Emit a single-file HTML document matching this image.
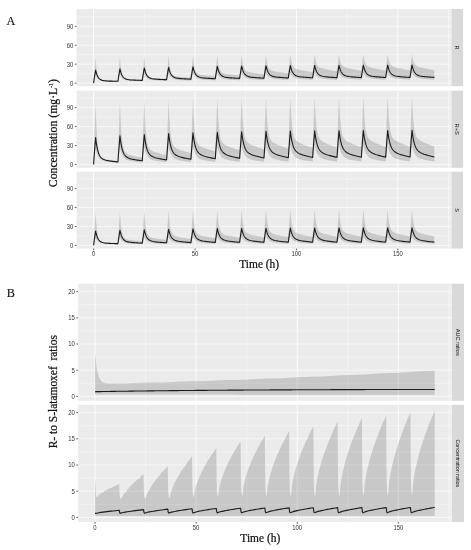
<!DOCTYPE html>
<html><head><meta charset="utf-8"><title>Figure</title>
<style>
html,body{margin:0;padding:0;background:#fff}
svg{display:block;filter:blur(0.35px)}
.tk{font-family:"Liberation Sans",sans-serif;font-size:6.6px;fill:#333}
.st{font-family:"Liberation Sans",sans-serif;font-size:5.9px;fill:#111}
.ti{font-family:"Liberation Serif",serif;font-size:11.5px;fill:#111;stroke:#111;stroke-width:0.22px}
.lb{font-family:"Liberation Serif",serif;font-size:12.2px;fill:#111;stroke:#111;stroke-width:0.15px}
</style></head><body>
<svg width="471" height="550" viewBox="0 0 471 550">
<rect width="471" height="550" fill="#fff"/>
<rect x="76.55" y="9" width="374.85" height="77.2" fill="#ebebeb"/>
<rect x="451.4" y="9" width="11.7" height="77.2" fill="#d9d9d9"/>
<path d="M76.55 73.63H451.4M76.55 54.7H451.4M76.55 35.77H451.4M76.55 16.84H451.4" stroke="#fff" stroke-width="1.0" stroke-opacity="0.42" fill="none"/>
<path d="M144.3 9V86.2M245.72 9V86.2M347.14 9V86.2M448.56 9V86.2" stroke="#fff" stroke-width="0.9" stroke-opacity="0.42" fill="none"/>
<path d="M76.55 83.1H451.4M76.55 64.17H451.4M76.55 45.24H451.4M76.55 26.31H451.4" stroke="#fff" stroke-width="1.0" stroke-opacity="0.62" fill="none"/>
<path d="M93.59 9V86.2M195.01 9V86.2M296.43 9V86.2M397.85 9V86.2" stroke="#fff" stroke-width="1.0" stroke-opacity="0.85" fill="none"/>
<rect x="448.4" y="9" width="3" height="77.2" fill="#fff" fill-opacity="0.22"/>
<polygon points="93.59,83.1 94.1,75.85 94.6,69.57 95.11,63.62 95.62,57.86 95.82,60.56 96.02,62.93 96.23,65.01 96.43,66.84 96.63,68.45 96.84,69.86 97.04,71.1 97.24,72.19 97.44,73.15 97.65,73.99 97.85,74.73 98.05,75.38 98.26,75.95 98.46,76.46 98.66,76.9 98.86,77.29 99.07,77.63 99.27,77.93 99.47,78.2 99.68,78.43 99.88,78.64 100.08,78.82 100.28,78.98 100.49,79.12 100.69,79.24 100.89,79.36 101.1,79.45 101.3,79.54 101.5,79.62 101.7,79.68 102.72,79.93 103.73,80.07 104.75,80.16 105.76,80.22 106.77,80.26 107.79,80.3 108.8,80.33 109.82,80.36 110.83,80.39 111.85,80.42 112.86,80.44 113.87,80.47 114.89,80.5 115.9,80.52 116.92,80.55 117.93,80.58 118.44,73.81 118.95,67.95 119.45,62.39 119.96,57.02 120.16,59.68 120.36,62.02 120.57,64.08 120.77,65.88 120.97,67.47 121.18,68.87 121.38,70.09 121.58,71.17 121.78,72.12 121.99,72.95 122.19,73.68 122.39,74.33 122.6,74.89 122.8,75.39 123,75.83 123.2,76.22 123.41,76.56 123.61,76.86 123.81,77.13 124.02,77.36 124.22,77.57 124.42,77.75 124.62,77.91 124.83,78.05 125.03,78.18 125.23,78.29 125.44,78.39 125.64,78.48 125.84,78.56 126.04,78.63 127.06,78.89 128.07,79.04 129.09,79.15 130.1,79.22 131.12,79.28 132.13,79.33 133.14,79.38 134.16,79.42 135.17,79.47 136.19,79.51 137.2,79.55 138.21,79.59 139.23,79.63 140.24,79.67 141.26,79.71 142.27,79.75 142.78,73.03 143.29,67.22 143.79,61.7 144.3,56.36 144.5,58.96 144.71,61.24 144.91,63.25 145.11,65.01 145.31,66.56 145.52,67.92 145.72,69.12 145.92,70.17 146.13,71.1 146.33,71.91 146.53,72.63 146.73,73.26 146.94,73.82 147.14,74.31 147.34,74.74 147.55,75.12 147.75,75.45 147.95,75.75 148.15,76.01 148.36,76.24 148.56,76.45 148.76,76.63 148.97,76.79 149.17,76.93 149.37,77.06 149.57,77.17 149.78,77.27 149.98,77.36 150.18,77.44 150.39,77.52 151.4,77.79 152.41,77.95 153.43,78.07 154.44,78.16 155.46,78.24 156.47,78.3 157.48,78.37 158.5,78.43 159.51,78.49 160.53,78.54 161.54,78.6 162.56,78.65 163.57,78.71 164.58,78.76 165.6,78.82 166.61,78.87 167.12,72.26 167.63,66.53 168.13,61.1 168.64,55.85 168.84,58.31 169.05,60.47 169.25,62.38 169.45,64.05 169.66,65.52 169.86,66.81 170.06,67.95 170.26,68.95 170.47,69.83 170.67,70.61 170.87,71.29 171.07,71.89 171.28,72.43 171.48,72.89 171.68,73.31 171.89,73.67 172.09,74 172.29,74.28 172.49,74.54 172.7,74.76 172.9,74.96 173.1,75.14 173.31,75.29 173.51,75.43 173.71,75.56 173.91,75.67 174.12,75.77 174.32,75.86 174.52,75.94 174.73,76.02 175.74,76.3 176.75,76.48 177.77,76.62 178.78,76.73 179.8,76.83 180.81,76.92 181.83,77 182.84,77.08 183.85,77.16 184.87,77.24 185.88,77.31 186.9,77.39 187.91,77.46 188.92,77.54 189.94,77.61 190.95,77.68 191.46,71.3 191.97,65.77 192.47,60.52 192.98,55.45 193.18,57.73 193.39,59.73 193.59,61.49 193.79,63.04 194,64.4 194.2,65.6 194.4,66.66 194.6,67.59 194.81,68.41 195.01,69.13 195.21,69.77 195.42,70.33 195.62,70.83 195.82,71.27 196.02,71.66 196.23,72 196.43,72.31 196.63,72.58 196.84,72.82 197.04,73.03 197.24,73.22 197.44,73.39 197.65,73.55 197.85,73.68 198.05,73.81 198.26,73.92 198.46,74.02 198.66,74.11 198.86,74.19 199.07,74.26 200.08,74.55 201.1,74.76 202.11,74.92 203.12,75.05 204.14,75.17 205.15,75.29 206.17,75.4 207.18,75.5 208.19,75.6 209.21,75.71 210.22,75.8 211.24,75.9 212.25,76 213.27,76.09 214.28,76.19 215.29,76.28 215.8,70.21 216.31,64.95 216.82,59.97 217.32,55.14 217.53,57.33 217.73,59.25 217.93,60.94 218.13,62.43 218.34,63.74 218.54,64.89 218.74,65.91 218.95,66.8 219.15,67.59 219.35,68.29 219.55,68.91 219.76,69.45 219.96,69.93 220.16,70.35 220.37,70.73 220.57,71.06 220.77,71.36 220.97,71.62 221.18,71.86 221.38,72.07 221.58,72.25 221.78,72.42 221.99,72.57 222.19,72.71 222.39,72.83 222.6,72.94 222.8,73.04 223,73.13 223.2,73.21 223.41,73.29 224.42,73.59 225.44,73.8 226.45,73.97 227.46,74.12 228.48,74.26 229.49,74.38 230.51,74.5 231.52,74.62 232.54,74.74 233.55,74.85 234.56,74.97 235.58,75.08 236.59,75.19 237.61,75.29 238.62,75.4 239.63,75.51 240.14,69.59 240.65,64.46 241.16,59.6 241.66,54.9 241.87,56.91 242.07,58.68 242.27,60.23 242.47,61.6 242.68,62.81 242.88,63.87 243.08,64.81 243.29,65.63 243.49,66.36 243.69,67.01 243.89,67.58 244.1,68.09 244.3,68.53 244.5,68.93 244.71,69.28 244.91,69.59 245.11,69.87 245.31,70.12 245.52,70.34 245.72,70.54 245.92,70.72 246.13,70.88 246.33,71.02 246.53,71.15 246.73,71.27 246.94,71.38 247.14,71.48 247.34,71.57 247.55,71.65 247.75,71.73 248.76,72.04 249.78,72.27 250.79,72.46 251.81,72.63 252.82,72.79 253.83,72.94 254.85,73.08 255.86,73.22 256.88,73.36 257.89,73.49 258.9,73.63 259.92,73.76 260.93,73.89 261.95,74.01 262.96,74.14 263.98,74.26 264.48,68.65 264.99,63.79 265.5,59.17 266,54.71 266.21,56.61 266.41,58.27 266.61,59.74 266.82,61.03 267.02,62.17 267.22,63.18 267.42,64.06 267.63,64.85 267.83,65.54 268.03,66.15 268.24,66.69 268.44,67.17 268.64,67.6 268.84,67.97 269.05,68.31 269.25,68.61 269.45,68.88 269.66,69.12 269.86,69.33 270.06,69.52 270.26,69.69 270.47,69.85 270.67,69.99 270.87,70.12 271.07,70.24 271.28,70.34 271.48,70.44 271.68,70.53 271.89,70.61 272.09,70.69 273.1,71 274.12,71.25 275.13,71.45 276.15,71.64 277.16,71.81 278.17,71.97 279.19,72.13 280.2,72.28 281.22,72.43 282.23,72.58 283.25,72.73 284.26,72.88 285.27,73.02 286.29,73.16 287.3,73.3 288.32,73.44 288.82,68.02 289.33,63.32 289.84,58.87 290.34,54.57 290.55,56.25 290.75,57.74 290.95,59.05 291.16,60.2 291.36,61.22 291.56,62.12 291.76,62.92 291.97,63.62 292.17,64.24 292.37,64.79 292.58,65.28 292.78,65.72 292.98,66.1 293.18,66.45 293.39,66.76 293.59,67.03 293.79,67.28 294,67.5 294.2,67.7 294.4,67.88 294.6,68.04 294.81,68.19 295.01,68.32 295.21,68.44 295.42,68.56 295.62,68.66 295.82,68.75 296.02,68.84 296.23,68.93 296.43,69 297.44,69.33 298.46,69.59 299.47,69.81 300.49,70.02 301.5,70.21 302.52,70.4 303.53,70.58 304.54,70.76 305.56,70.94 306.57,71.11 307.59,71.28 308.6,71.45 309.61,71.61 310.63,71.77 311.64,71.93 312.66,72.09 313.16,67.03 313.67,62.64 314.18,58.48 314.69,54.45 314.89,56.02 315.09,57.39 315.29,58.61 315.5,59.68 315.7,60.62 315.9,61.46 316.11,62.2 316.31,62.86 316.51,63.44 316.71,63.95 316.92,64.41 317.12,64.82 317.32,65.18 317.53,65.51 317.73,65.8 317.93,66.06 318.13,66.29 318.34,66.5 318.54,66.69 318.74,66.86 318.95,67.02 319.15,67.16 319.35,67.29 319.55,67.41 319.76,67.52 319.96,67.62 320.16,67.72 320.37,67.81 320.57,67.89 320.77,67.97 321.78,68.3 322.8,68.57 323.81,68.81 324.83,69.03 325.84,69.24 326.86,69.44 327.87,69.63 328.88,69.83 329.9,70.01 330.91,70.2 331.93,70.38 332.94,70.57 333.96,70.74 334.97,70.92 335.98,71.09 337,71.26 337.51,66.41 338.01,62.21 338.52,58.22 339.03,54.37 339.23,55.85 339.43,57.16 339.63,58.32 339.84,59.34 340.04,60.24 340.24,61.04 340.45,61.75 340.65,62.37 340.85,62.93 341.05,63.42 341.26,63.86 341.46,64.25 341.66,64.6 341.87,64.91 342.07,65.19 342.27,65.44 342.47,65.67 342.68,65.87 342.88,66.06 343.08,66.23 343.29,66.38 343.49,66.52 343.69,66.65 343.89,66.76 344.1,66.87 344.3,66.97 344.5,67.07 344.71,67.16 344.91,67.24 345.11,67.32 346.13,67.65 347.14,67.93 348.15,68.18 349.17,68.41 350.18,68.62 351.2,68.83 352.21,69.04 353.23,69.24 354.24,69.44 355.25,69.63 356.27,69.83 357.28,70.01 358.3,70.2 359.31,70.39 360.32,70.57 361.34,70.75 361.85,66.02 362.35,61.93 362.86,58.05 363.37,54.3 363.57,55.76 363.77,57.04 363.98,58.18 364.18,59.18 364.38,60.07 364.58,60.86 364.79,61.55 364.99,62.17 365.19,62.72 365.4,63.2 365.6,63.63 365.8,64.02 366,64.36 366.21,64.67 366.41,64.95 366.61,65.2 366.82,65.42 367.02,65.62 367.22,65.8 367.42,65.97 367.63,66.12 367.83,66.26 368.03,66.39 368.24,66.5 368.44,66.61 368.64,66.71 368.84,66.81 369.05,66.9 369.25,66.98 369.45,67.06 370.47,67.39 371.48,67.67 372.5,67.92 373.51,68.16 374.52,68.38 375.54,68.59 376.55,68.8 377.57,69.01 378.58,69.21 379.59,69.41 380.61,69.6 381.62,69.79 382.64,69.98 383.65,70.17 384.67,70.36 385.68,70.54 386.19,65.86 386.69,61.81 387.2,57.96 387.71,54.24 387.91,55.67 388.11,56.94 388.32,58.05 388.52,59.04 388.72,59.91 388.93,60.68 389.13,61.36 389.33,61.97 389.53,62.51 389.74,62.98 389.94,63.41 390.14,63.79 390.34,64.13 390.55,64.43 390.75,64.7 390.95,64.95 391.16,65.17 391.36,65.37 391.56,65.55 391.76,65.72 391.97,65.87 392.17,66 392.37,66.13 392.58,66.25 392.78,66.35 392.98,66.45 393.18,66.55 393.39,66.64 393.59,66.72 393.79,66.8 394.81,67.14 395.82,67.42 396.84,67.67 397.85,67.91 398.86,68.13 399.88,68.35 400.89,68.56 401.91,68.77 402.92,68.98 403.94,69.18 404.95,69.38 405.96,69.57 406.98,69.77 407.99,69.96 409.01,70.15 410.02,70.33 410.53,65.7 411.03,61.69 411.54,57.88 412.05,54.2 412.25,55.62 412.45,56.87 412.66,57.98 412.86,58.96 413.06,59.82 413.27,60.59 413.47,61.26 413.67,61.86 413.87,62.4 414.08,62.87 414.28,63.29 414.48,63.67 414.69,64.01 414.89,64.31 415.09,64.58 415.29,64.82 415.5,65.04 415.7,65.24 415.9,65.42 416.11,65.59 416.31,65.74 416.51,65.87 416.71,66 416.92,66.12 417.12,66.22 417.32,66.32 417.53,66.42 417.73,66.51 417.93,66.59 418.13,66.67 419.15,67.01 420.16,67.29 421.18,67.55 422.19,67.78 423.21,68.01 424.22,68.23 425.23,68.44 426.25,68.66 427.26,68.86 428.28,69.07 429.29,69.27 430.3,69.46 431.32,69.66 432.33,69.85 433.35,70.04 434.36,70.23 434.36,79.69 433.35,79.63 432.33,79.57 431.32,79.5 430.3,79.44 429.29,79.37 428.28,79.3 427.26,79.23 426.25,79.15 425.23,79.07 424.22,78.98 423.21,78.89 422.19,78.79 421.18,78.66 420.16,78.52 419.15,78.34 418.13,78.11 417.93,78.05 417.73,78 417.53,77.93 417.32,77.87 417.12,77.8 416.92,77.73 416.71,77.65 416.51,77.57 416.31,77.48 416.11,77.38 415.9,77.28 415.7,77.17 415.5,77.05 415.29,76.93 415.09,76.8 414.89,76.65 414.69,76.5 414.48,76.33 414.28,76.15 414.08,75.96 413.87,75.75 413.67,75.53 413.47,75.29 413.27,75.04 413.06,74.76 412.86,74.46 412.66,74.13 412.45,73.79 412.25,73.41 412.05,73 411.54,74.54 411.03,76.12 410.53,77.79 410.02,79.72 409.01,79.66 407.99,79.59 406.98,79.53 405.96,79.46 404.95,79.4 403.94,79.33 402.92,79.25 401.91,79.18 400.89,79.1 399.88,79.01 398.86,78.92 397.85,78.82 396.84,78.69 395.82,78.55 394.81,78.37 393.79,78.14 393.59,78.08 393.39,78.03 393.18,77.97 392.98,77.9 392.78,77.83 392.58,77.76 392.37,77.68 392.17,77.6 391.97,77.51 391.76,77.41 391.56,77.31 391.36,77.2 391.16,77.08 390.95,76.96 390.75,76.82 390.55,76.68 390.34,76.53 390.14,76.36 389.94,76.18 389.74,75.99 389.53,75.78 389.33,75.56 389.13,75.32 388.93,75.06 388.72,74.78 388.52,74.48 388.32,74.16 388.11,73.81 387.91,73.43 387.71,73.03 387.2,74.56 386.69,76.15 386.19,77.82 385.68,79.75 384.67,79.69 383.65,79.63 382.64,79.56 381.62,79.5 380.61,79.43 379.59,79.36 378.58,79.29 377.57,79.21 376.55,79.14 375.54,79.05 374.52,78.96 373.51,78.85 372.5,78.73 371.48,78.59 370.47,78.41 369.45,78.18 369.25,78.12 369.05,78.07 368.84,78.01 368.64,77.94 368.44,77.87 368.24,77.8 368.03,77.72 367.83,77.64 367.63,77.55 367.42,77.45 367.22,77.35 367.02,77.24 366.82,77.12 366.61,77 366.41,76.86 366.21,76.72 366,76.56 365.8,76.4 365.6,76.22 365.4,76.03 365.19,75.82 364.99,75.6 364.79,75.35 364.58,75.1 364.38,74.82 364.18,74.52 363.98,74.19 363.77,73.84 363.57,73.46 363.37,73.05 362.86,74.59 362.35,76.18 361.85,77.85 361.34,79.79 360.32,79.73 359.31,79.67 358.3,79.6 357.28,79.54 356.27,79.47 355.25,79.41 354.24,79.34 353.23,79.26 352.21,79.18 351.2,79.1 350.18,79.01 349.17,78.9 348.15,78.78 347.14,78.64 346.13,78.46 345.11,78.23 344.91,78.18 344.71,78.12 344.5,78.06 344.3,77.99 344.1,77.92 343.89,77.85 343.69,77.77 343.49,77.69 343.29,77.6 343.08,77.5 342.88,77.4 342.68,77.29 342.47,77.17 342.27,77.05 342.07,76.91 341.87,76.77 341.66,76.61 341.46,76.45 341.26,76.27 341.05,76.07 340.85,75.86 340.65,75.64 340.45,75.4 340.24,75.14 340.04,74.86 339.84,74.56 339.63,74.23 339.43,73.88 339.23,73.5 339.03,73.09 338.52,74.63 338.01,76.22 337.51,77.9 337,79.84 335.98,79.78 334.97,79.72 333.96,79.66 332.94,79.6 331.93,79.53 330.91,79.46 329.9,79.39 328.88,79.32 327.87,79.24 326.86,79.16 325.84,79.07 324.83,78.97 323.81,78.85 322.8,78.71 321.78,78.53 320.77,78.3 320.57,78.24 320.37,78.18 320.16,78.12 319.96,78.06 319.76,77.99 319.55,77.91 319.35,77.84 319.15,77.75 318.95,77.66 318.74,77.57 318.54,77.46 318.34,77.36 318.13,77.24 317.93,77.11 317.73,76.98 317.53,76.83 317.32,76.67 317.12,76.51 316.92,76.33 316.71,76.13 316.51,75.92 316.31,75.7 316.11,75.46 315.9,75.2 315.7,74.91 315.5,74.61 315.29,74.28 315.09,73.93 314.89,73.55 314.69,73.14 314.18,74.68 313.67,76.28 313.16,77.96 312.66,79.91 311.64,79.85 310.63,79.79 309.61,79.73 308.6,79.67 307.59,79.6 306.57,79.54 305.56,79.47 304.54,79.4 303.53,79.32 302.52,79.24 301.5,79.15 300.49,79.05 299.47,78.93 298.46,78.79 297.44,78.61 296.43,78.38 296.23,78.33 296.02,78.27 295.82,78.21 295.62,78.14 295.42,78.07 295.21,78 295.01,77.92 294.81,77.84 294.6,77.75 294.4,77.65 294.2,77.55 294,77.44 293.79,77.32 293.59,77.19 293.39,77.06 293.18,76.91 292.98,76.75 292.78,76.59 292.58,76.41 292.37,76.21 292.17,76 291.97,75.77 291.76,75.53 291.56,75.27 291.36,74.98 291.16,74.68 290.95,74.35 290.75,73.99 290.55,73.61 290.34,73.19 289.84,74.75 289.33,76.35 288.82,78.04 288.32,79.99 287.3,79.94 286.29,79.88 285.27,79.82 284.26,79.76 283.25,79.7 282.23,79.63 281.22,79.57 280.2,79.5 279.19,79.42 278.17,79.34 277.16,79.25 276.15,79.15 275.13,79.04 274.12,78.9 273.1,78.72 272.09,78.49 271.89,78.44 271.68,78.38 271.48,78.32 271.28,78.25 271.07,78.18 270.87,78.11 270.67,78.03 270.47,77.94 270.26,77.85 270.06,77.76 269.86,77.66 269.66,77.54 269.45,77.43 269.25,77.3 269.05,77.16 268.84,77.02 268.64,76.86 268.44,76.69 268.24,76.51 268.03,76.31 267.83,76.1 267.63,75.87 267.42,75.62 267.22,75.36 267.02,75.07 266.82,74.77 266.61,74.43 266.41,74.08 266.21,73.69 266,73.27 265.5,74.83 264.99,76.44 264.48,78.14 263.98,80.1 262.96,80.05 261.95,79.99 260.93,79.94 259.92,79.88 258.9,79.82 257.89,79.76 256.88,79.69 255.86,79.62 254.85,79.55 253.83,79.47 252.82,79.39 251.81,79.29 250.79,79.17 249.78,79.03 248.76,78.86 247.75,78.63 247.55,78.58 247.34,78.52 247.14,78.46 246.94,78.39 246.73,78.32 246.53,78.25 246.33,78.17 246.13,78.08 245.92,77.99 245.72,77.9 245.52,77.79 245.31,77.68 245.11,77.56 244.91,77.43 244.71,77.3 244.5,77.15 244.3,76.99 244.1,76.82 243.89,76.63 243.69,76.44 243.49,76.22 243.29,75.99 243.08,75.75 242.88,75.48 242.68,75.19 242.47,74.88 242.27,74.54 242.07,74.18 241.87,73.79 241.66,73.37 241.16,74.94 240.65,76.56 240.14,78.27 239.63,80.25 238.62,80.19 237.61,80.14 236.59,80.09 235.58,80.03 234.56,79.97 233.55,79.91 232.54,79.85 231.52,79.79 230.51,79.72 229.49,79.64 228.48,79.56 227.46,79.46 226.45,79.35 225.44,79.21 224.42,79.04 223.41,78.81 223.2,78.76 223,78.7 222.8,78.64 222.6,78.57 222.39,78.5 222.19,78.43 221.99,78.35 221.78,78.26 221.58,78.17 221.38,78.07 221.18,77.97 220.97,77.86 220.77,77.74 220.57,77.61 220.37,77.47 220.16,77.32 219.96,77.16 219.76,76.99 219.55,76.8 219.35,76.6 219.15,76.38 218.95,76.15 218.74,75.9 218.54,75.63 218.34,75.34 218.13,75.02 217.93,74.68 217.73,74.32 217.53,73.92 217.32,73.49 216.82,75.07 216.31,76.71 215.8,78.44 215.29,80.43 214.28,80.38 213.27,80.33 212.25,80.28 211.24,80.22 210.22,80.17 209.21,80.11 208.19,80.06 207.18,79.99 206.17,79.93 205.15,79.86 204.14,79.78 203.12,79.68 202.11,79.57 201.1,79.44 200.08,79.27 199.07,79.04 198.86,78.99 198.66,78.93 198.46,78.87 198.26,78.8 198.05,78.73 197.85,78.66 197.65,78.58 197.44,78.49 197.24,78.4 197.04,78.3 196.84,78.2 196.63,78.08 196.43,77.96 196.23,77.83 196.02,77.69 195.82,77.54 195.62,77.38 195.42,77.2 195.21,77.01 195.01,76.81 194.81,76.59 194.6,76.35 194.4,76.1 194.2,75.83 194,75.53 193.79,75.21 193.59,74.86 193.39,74.49 193.18,74.09 192.98,73.65 192.47,75.25 191.97,76.9 191.46,78.65 190.95,80.66 189.94,80.61 188.92,80.57 187.91,80.52 186.9,80.47 185.88,80.42 184.87,80.37 183.85,80.32 182.84,80.26 181.83,80.2 180.81,80.13 179.8,80.06 178.78,79.97 177.77,79.86 176.75,79.73 175.74,79.56 174.73,79.34 174.52,79.28 174.32,79.22 174.12,79.16 173.91,79.1 173.71,79.03 173.51,78.95 173.31,78.87 173.1,78.78 172.9,78.69 172.7,78.59 172.49,78.49 172.29,78.37 172.09,78.25 171.89,78.12 171.68,77.97 171.48,77.82 171.28,77.66 171.07,77.48 170.87,77.29 170.67,77.08 170.47,76.86 170.26,76.62 170.06,76.36 169.86,76.08 169.66,75.77 169.45,75.45 169.25,75.1 169.05,74.71 168.84,74.3 168.64,73.86 168.13,75.48 167.63,77.15 167.12,78.92 166.61,80.96 165.6,80.92 164.58,80.88 163.57,80.84 162.56,80.8 161.54,80.75 160.53,80.71 159.51,80.66 158.5,80.61 157.48,80.55 156.47,80.49 155.46,80.42 154.44,80.34 153.43,80.24 152.41,80.11 151.4,79.94 150.39,79.72 150.18,79.66 149.98,79.61 149.78,79.54 149.57,79.48 149.37,79.41 149.17,79.33 148.97,79.25 148.76,79.16 148.56,79.07 148.36,78.97 148.15,78.86 147.95,78.74 147.75,78.62 147.55,78.48 147.34,78.34 147.14,78.18 146.94,78.01 146.73,77.83 146.53,77.64 146.33,77.43 146.13,77.2 145.92,76.95 145.72,76.69 145.52,76.4 145.31,76.09 145.11,75.75 144.91,75.39 144.71,75 144.5,74.58 144.3,74.12 143.79,75.77 143.29,77.47 142.78,79.27 142.27,81.34 141.26,81.31 140.24,81.28 139.23,81.24 138.21,81.21 137.2,81.17 136.19,81.13 135.17,81.09 134.16,81.05 133.14,81 132.13,80.94 131.12,80.88 130.1,80.81 129.09,80.71 128.07,80.59 127.06,80.43 126.04,80.21 125.84,80.15 125.64,80.09 125.44,80.03 125.23,79.97 125.03,79.89 124.83,79.82 124.62,79.74 124.42,79.65 124.22,79.55 124.02,79.45 123.81,79.34 123.61,79.22 123.41,79.09 123.2,78.96 123,78.81 122.8,78.65 122.6,78.47 122.39,78.29 122.19,78.09 121.99,77.87 121.78,77.64 121.58,77.38 121.38,77.11 121.18,76.81 120.97,76.49 120.77,76.15 120.57,75.77 120.36,75.37 120.16,74.93 119.96,74.46 119.45,76.14 118.95,77.88 118.44,79.72 117.93,81.84 116.92,81.81 115.9,81.79 114.89,81.76 113.87,81.74 112.86,81.71 111.85,81.68 110.83,81.65 109.82,81.61 108.8,81.58 107.79,81.53 106.77,81.48 105.76,81.41 104.75,81.32 103.73,81.21 102.72,81.05 101.7,80.83 101.5,80.78 101.3,80.72 101.1,80.66 100.89,80.59 100.69,80.52 100.49,80.44 100.28,80.36 100.08,80.27 99.88,80.17 99.68,80.07 99.47,79.95 99.27,79.83 99.07,79.7 98.86,79.56 98.66,79.41 98.46,79.24 98.26,79.07 98.05,78.87 97.85,78.66 97.65,78.44 97.44,78.2 97.24,77.93 97.04,77.65 96.84,77.34 96.63,77.01 96.43,76.65 96.23,76.26 96.02,75.84 95.82,75.39 95.62,74.9 95.11,76.77 94.6,78.7 94.1,80.74 93.59,83.1" fill="#333" fill-opacity="0.19"/>
<polyline points="93.59,83.1 94.1,79.35 94.6,76.1 95.11,73.02 95.62,70.04 95.82,70.92 96.02,71.73 96.23,72.48 96.43,73.17 96.63,73.8 96.84,74.38 97.04,74.91 97.24,75.4 97.44,75.85 97.65,76.26 97.85,76.64 98.05,76.99 98.26,77.32 98.46,77.61 98.66,77.88 98.86,78.13 99.07,78.37 99.27,78.58 99.47,78.77 99.68,78.95 99.88,79.12 100.08,79.27 100.28,79.41 100.49,79.54 100.69,79.66 100.89,79.77 101.1,79.87 101.3,79.96 101.5,80.05 101.7,80.13 102.72,80.44 103.73,80.65 104.75,80.8 105.76,80.9 106.77,80.98 107.79,81.03 108.8,81.08 109.82,81.11 110.83,81.14 111.85,81.17 112.86,81.2 113.87,81.22 114.89,81.24 115.9,81.26 116.92,81.28 117.93,81.3 118.44,77.74 118.95,74.66 119.45,71.73 119.96,68.91 120.16,69.79 120.36,70.6 120.57,71.34 120.77,72.03 120.97,72.66 121.18,73.24 121.38,73.77 121.58,74.26 121.78,74.71 121.99,75.13 122.19,75.51 122.39,75.86 122.6,76.18 122.8,76.48 123,76.76 123.2,77.01 123.41,77.24 123.61,77.45 123.81,77.65 124.02,77.83 124.22,78 124.42,78.15 124.62,78.3 124.83,78.43 125.03,78.55 125.23,78.66 125.44,78.76 125.64,78.86 125.84,78.95 126.04,79.03 127.06,79.36 128.07,79.58 129.09,79.74 130.1,79.86 131.12,79.95 132.13,80.02 133.14,80.07 134.16,80.12 135.17,80.17 136.19,80.21 137.2,80.24 138.21,80.28 139.23,80.31 140.24,80.34 141.26,80.38 142.27,80.41 142.78,76.85 143.29,73.77 143.79,70.85 144.3,68.02 144.5,68.9 144.71,69.71 144.91,70.46 145.11,71.15 145.31,71.78 145.52,72.35 145.72,72.89 145.92,73.38 146.13,73.83 146.33,74.24 146.53,74.63 146.73,74.98 146.94,75.3 147.14,75.6 147.34,75.88 147.55,76.13 147.75,76.36 147.95,76.58 148.15,76.78 148.36,76.96 148.56,77.13 148.76,77.29 148.97,77.43 149.17,77.56 149.37,77.69 149.57,77.8 149.78,77.9 149.98,78 150.18,78.09 150.39,78.18 151.4,78.51 152.41,78.75 153.43,78.92 154.44,79.05 155.46,79.14 156.47,79.22 157.48,79.29 158.5,79.35 159.51,79.4 160.53,79.45 161.54,79.5 162.56,79.54 163.57,79.59 164.58,79.63 165.6,79.67 166.61,79.71 167.12,76.16 167.63,73.08 168.13,70.16 168.64,67.34 168.84,68.22 169.05,69.03 169.25,69.77 169.45,70.46 169.66,71.09 169.86,71.66 170.06,72.2 170.26,72.69 170.47,73.14 170.67,73.56 170.87,73.94 171.07,74.29 171.28,74.62 171.48,74.92 171.68,75.19 171.89,75.45 172.09,75.68 172.29,75.9 172.49,76.1 172.7,76.28 172.9,76.45 173.1,76.61 173.31,76.75 173.51,76.89 173.71,77.01 173.91,77.13 174.12,77.23 174.32,77.33 174.52,77.43 174.73,77.51 175.74,77.86 176.75,78.1 177.77,78.28 178.78,78.41 179.8,78.52 180.81,78.61 181.83,78.68 182.84,78.75 183.85,78.81 184.87,78.87 185.88,78.92 186.9,78.97 187.91,79.02 188.92,79.07 189.94,79.12 190.95,79.17 191.46,75.62 191.97,72.54 192.47,69.62 192.98,66.8 193.18,67.68 193.39,68.49 193.59,69.23 193.79,69.92 194,70.55 194.2,71.13 194.4,71.66 194.6,72.15 194.81,72.6 195.01,73.02 195.21,73.4 195.42,73.76 195.62,74.08 195.82,74.38 196.02,74.66 196.23,74.91 196.43,75.15 196.63,75.37 196.84,75.57 197.04,75.75 197.24,75.92 197.44,76.08 197.65,76.23 197.85,76.36 198.05,76.49 198.26,76.61 198.46,76.71 198.66,76.81 198.86,76.91 199.07,76.99 200.08,77.34 201.1,77.59 202.11,77.78 203.12,77.92 204.14,78.03 205.15,78.13 206.17,78.21 207.18,78.28 208.19,78.35 209.21,78.41 210.22,78.47 211.24,78.53 212.25,78.59 213.27,78.64 214.28,78.7 215.29,78.75 215.8,75.2 216.31,72.12 216.82,69.21 217.32,66.38 217.53,67.26 217.73,68.07 217.93,68.82 218.13,69.5 218.34,70.13 218.54,70.71 218.74,71.24 218.95,71.73 219.15,72.19 219.35,72.6 219.55,72.99 219.76,73.34 219.96,73.67 220.16,73.97 220.37,74.24 220.57,74.5 220.77,74.74 220.97,74.95 221.18,75.15 221.38,75.34 221.58,75.51 221.78,75.67 221.99,75.82 222.19,75.96 222.39,76.08 222.6,76.2 222.8,76.31 223,76.41 223.2,76.5 223.41,76.59 224.42,76.94 225.44,77.2 226.45,77.39 227.46,77.54 228.48,77.65 229.49,77.75 230.51,77.84 231.52,77.92 232.54,77.99 233.55,78.06 234.56,78.12 235.58,78.18 236.59,78.24 237.61,78.3 238.62,78.36 239.63,78.42 240.14,74.87 240.65,71.8 241.16,68.88 241.66,66.06 241.87,66.94 242.07,67.75 242.27,68.49 242.47,69.17 242.68,69.8 242.88,70.38 243.08,70.92 243.29,71.41 243.49,71.86 243.69,72.28 243.89,72.66 244.1,73.02 244.3,73.34 244.5,73.64 244.71,73.92 244.91,74.18 245.11,74.41 245.31,74.63 245.52,74.83 245.72,75.02 245.92,75.19 246.13,75.35 246.33,75.5 246.53,75.64 246.73,75.76 246.94,75.88 247.14,75.99 247.34,76.09 247.55,76.19 247.75,76.28 248.76,76.63 249.78,76.89 250.79,77.09 251.81,77.24 252.82,77.36 253.83,77.46 254.85,77.55 255.86,77.63 256.88,77.71 257.89,77.78 258.9,77.85 259.92,77.91 260.93,77.98 261.95,78.04 262.96,78.1 263.98,78.17 264.48,74.62 264.99,71.54 265.5,68.63 266,65.81 266.21,66.69 266.41,67.49 266.61,68.24 266.82,68.92 267.02,69.55 267.22,70.13 267.42,70.66 267.63,71.15 267.83,71.61 268.03,72.02 268.24,72.41 268.44,72.76 268.64,73.09 268.84,73.39 269.05,73.67 269.25,73.93 269.45,74.16 269.66,74.38 269.86,74.58 270.06,74.77 270.26,74.94 270.47,75.1 270.67,75.25 270.87,75.39 271.07,75.52 271.28,75.64 271.48,75.74 271.68,75.85 271.89,75.94 272.09,76.03 273.1,76.39 274.12,76.65 275.13,76.85 276.15,77 277.16,77.13 278.17,77.23 279.19,77.33 280.2,77.41 281.22,77.49 282.23,77.56 283.25,77.63 284.26,77.7 285.27,77.77 286.29,77.84 287.3,77.9 288.32,77.97 288.82,74.42 289.33,71.35 289.84,68.43 290.34,65.61 290.55,66.49 290.75,67.3 290.95,68.04 291.16,68.72 291.36,69.35 291.56,69.93 291.76,70.47 291.97,70.96 292.17,71.41 292.37,71.83 292.58,72.21 292.78,72.57 292.98,72.89 293.18,73.19 293.39,73.47 293.59,73.73 293.79,73.97 294,74.19 294.2,74.39 294.4,74.58 294.6,74.75 294.81,74.91 295.01,75.06 295.21,75.2 295.42,75.32 295.62,75.44 295.82,75.55 296.02,75.66 296.23,75.75 296.43,75.84 297.44,76.2 298.46,76.47 299.47,76.67 300.49,76.82 301.5,76.95 302.52,77.06 303.53,77.15 304.54,77.24 305.56,77.32 306.57,77.4 307.59,77.47 308.6,77.54 309.61,77.61 310.63,77.68 311.64,77.74 312.66,77.81 313.16,74.26 313.67,71.19 314.18,68.28 314.69,65.46 314.89,66.34 315.09,67.14 315.29,67.89 315.5,68.57 315.7,69.2 315.9,69.78 316.11,70.31 316.31,70.8 316.51,71.26 316.71,71.67 316.92,72.06 317.12,72.41 317.32,72.74 317.53,73.04 317.73,73.32 317.93,73.58 318.13,73.81 318.34,74.03 318.54,74.24 318.74,74.42 318.95,74.6 319.15,74.76 319.35,74.91 319.55,75.05 319.76,75.17 319.96,75.29 320.16,75.4 320.37,75.51 320.57,75.6 320.77,75.69 321.78,76.06 322.8,76.32 323.81,76.52 324.83,76.68 325.84,76.81 326.86,76.92 327.87,77.02 328.88,77.1 329.9,77.19 330.91,77.26 331.93,77.34 332.94,77.41 333.96,77.48 334.97,77.55 335.98,77.62 337,77.69 337.51,74.14 338.01,71.07 338.52,68.16 339.03,65.34 339.23,66.22 339.43,67.02 339.63,67.77 339.84,68.45 340.04,69.08 340.24,69.66 340.45,70.19 340.65,70.68 340.85,71.14 341.05,71.55 341.26,71.94 341.46,72.29 341.66,72.62 341.87,72.92 342.07,73.2 342.27,73.46 342.47,73.7 342.68,73.92 342.88,74.12 343.08,74.31 343.29,74.48 343.49,74.64 343.69,74.79 343.89,74.93 344.1,75.06 344.3,75.18 344.5,75.29 344.71,75.39 344.91,75.49 345.11,75.58 346.13,75.94 347.14,76.21 348.15,76.41 349.17,76.57 350.18,76.7 351.2,76.81 352.21,76.91 353.23,77 354.24,77.08 355.25,77.16 356.27,77.24 357.28,77.31 358.3,77.39 359.31,77.46 360.32,77.53 361.34,77.6 361.85,74.05 362.35,70.98 362.86,68.06 363.37,65.25 363.57,66.12 363.77,66.93 363.98,67.67 364.18,68.36 364.38,68.99 364.58,69.56 364.79,70.1 364.99,70.59 365.19,71.04 365.4,71.46 365.6,71.85 365.8,72.2 366,72.53 366.21,72.83 366.41,73.11 366.61,73.37 366.82,73.6 367.02,73.82 367.22,74.03 367.42,74.21 367.63,74.39 367.83,74.55 368.03,74.7 368.24,74.84 368.44,74.97 368.64,75.09 368.84,75.2 369.05,75.3 369.25,75.4 369.45,75.49 370.47,75.85 371.48,76.12 372.5,76.33 373.51,76.49 374.52,76.62 375.54,76.73 376.55,76.83 377.57,76.92 378.58,77 379.59,77.08 380.61,77.16 381.62,77.24 382.64,77.31 383.65,77.38 384.67,77.45 385.68,77.52 386.19,73.98 386.69,70.9 387.2,67.99 387.71,65.17 387.91,66.05 388.11,66.86 388.32,67.6 388.52,68.28 388.72,68.91 388.93,69.49 389.13,70.03 389.33,70.52 389.53,70.97 389.74,71.39 389.94,71.77 390.14,72.13 390.34,72.45 390.55,72.76 390.75,73.04 390.95,73.29 391.16,73.53 391.36,73.75 391.56,73.95 391.76,74.14 391.97,74.32 392.17,74.48 392.37,74.63 392.58,74.77 392.78,74.9 392.98,75.02 393.18,75.13 393.39,75.23 393.59,75.33 393.79,75.42 394.81,75.79 395.82,76.05 396.84,76.26 397.85,76.42 398.86,76.55 399.88,76.66 400.89,76.76 401.91,76.86 402.92,76.94 403.94,77.02 404.95,77.1 405.96,77.18 406.98,77.25 407.99,77.32 409.01,77.39 410.02,77.47 410.53,73.92 411.03,70.85 411.54,67.93 412.05,65.12 412.25,65.99 412.45,66.8 412.66,67.54 412.86,68.23 413.06,68.86 413.27,69.44 413.47,69.97 413.67,70.46 413.87,70.91 414.08,71.33 414.28,71.72 414.48,72.07 414.69,72.4 414.89,72.7 415.09,72.98 415.29,73.24 415.5,73.48 415.7,73.7 415.9,73.9 416.11,74.09 416.31,74.26 416.51,74.42 416.71,74.57 416.92,74.71 417.12,74.84 417.32,74.96 417.53,75.07 417.73,75.18 417.93,75.27 418.13,75.36 419.15,75.73 420.16,76 421.18,76.21 422.19,76.37 423.21,76.5 424.22,76.61 425.23,76.71 426.25,76.81 427.26,76.89 428.28,76.97 429.29,77.05 430.3,77.13 431.32,77.2 432.33,77.28 433.35,77.35 434.36,77.42" fill="none" stroke="#1a1a1a" stroke-width="1.1" stroke-linejoin="round"/>
<text transform="translate(73.25 85.5) scale(0.9 1)" text-anchor="end" class="tk">0</text>
<text transform="translate(73.25 66.57) scale(0.9 1)" text-anchor="end" class="tk">30</text>
<text transform="translate(73.25 47.64) scale(0.9 1)" text-anchor="end" class="tk">60</text>
<text transform="translate(73.25 28.71) scale(0.9 1)" text-anchor="end" class="tk">90</text>
<path d="M74.85 83.1H76.55M74.85 64.17H76.55M74.85 45.24H76.55M74.85 26.31H76.55" stroke="#333" stroke-width="0.8" fill="none"/>
<text transform="translate(455.4 47.6) rotate(90)" text-anchor="middle" class="st" textLength="4.0" lengthAdjust="spacingAndGlyphs">R</text>
<rect x="76.55" y="90.6" width="374.85" height="77.2" fill="#ebebeb"/>
<rect x="451.4" y="90.6" width="11.7" height="77.2" fill="#d9d9d9"/>
<path d="M76.55 155.02H451.4M76.55 136.06H451.4M76.55 117.1H451.4M76.55 98.14H451.4" stroke="#fff" stroke-width="1.0" stroke-opacity="0.42" fill="none"/>
<path d="M144.3 90.6V167.8M245.72 90.6V167.8M347.14 90.6V167.8M448.56 90.6V167.8" stroke="#fff" stroke-width="0.9" stroke-opacity="0.42" fill="none"/>
<path d="M76.55 164.5H451.4M76.55 145.54H451.4M76.55 126.58H451.4M76.55 107.62H451.4" stroke="#fff" stroke-width="1.0" stroke-opacity="0.62" fill="none"/>
<path d="M93.59 90.6V167.8M195.01 90.6V167.8M296.43 90.6V167.8M397.85 90.6V167.8" stroke="#fff" stroke-width="1.0" stroke-opacity="0.85" fill="none"/>
<rect x="448.4" y="90.6" width="3" height="77.2" fill="#fff" fill-opacity="0.22"/>
<polygon points="93.59,164.5 94.1,146.99 94.6,131.82 95.11,117.42 95.62,103.51 95.82,110.08 96.02,115.85 96.23,120.92 96.43,125.38 96.63,129.3 96.84,132.75 97.04,135.79 97.24,138.46 97.44,140.81 97.65,142.88 97.85,144.71 98.05,146.31 98.26,147.73 98.46,148.98 98.66,150.08 98.86,151.06 99.07,151.92 99.27,152.68 99.47,153.35 99.68,153.95 99.88,154.48 100.08,154.95 100.28,155.37 100.49,155.74 100.69,156.08 100.89,156.37 101.1,156.64 101.3,156.88 101.5,157.09 101.7,157.29 102.72,158.02 103.73,158.49 104.75,158.83 105.76,159.1 106.77,159.32 107.79,159.52 108.8,159.71 109.82,159.88 110.83,160.04 111.85,160.2 112.86,160.35 113.87,160.49 114.89,160.63 115.9,160.77 116.92,160.9 117.93,161.02 118.44,144.03 118.95,129.31 119.45,115.34 119.96,101.84 120.16,108.05 120.36,113.51 120.57,118.32 120.77,122.54 120.97,126.26 121.18,129.53 121.38,132.41 121.58,134.95 121.78,137.18 121.99,139.15 122.19,140.89 122.39,142.42 122.6,143.77 122.8,144.97 123,146.03 123.2,146.96 123.41,147.79 123.61,148.52 123.81,149.17 124.02,149.75 124.22,150.27 124.42,150.72 124.62,151.13 124.83,151.5 125.03,151.83 125.23,152.12 125.44,152.39 125.64,152.63 125.84,152.85 126.04,153.04 127.06,153.81 128.07,154.33 129.09,154.72 130.1,155.04 131.12,155.32 132.13,155.58 133.14,155.83 134.16,156.06 135.17,156.28 136.19,156.5 137.2,156.71 138.21,156.91 139.23,157.11 140.24,157.31 141.26,157.5 142.27,157.68 142.78,141.27 143.29,127.06 143.79,113.57 144.3,100.54 144.5,106.48 144.71,111.7 144.91,116.29 145.11,120.34 145.31,123.9 145.52,127.03 145.72,129.79 145.92,132.23 146.13,134.37 146.33,136.26 146.53,137.93 146.73,139.41 146.94,140.71 147.14,141.86 147.34,142.88 147.55,143.78 147.75,144.59 147.95,145.3 148.15,145.93 148.36,146.5 148.56,147 148.76,147.45 148.97,147.85 149.17,148.22 149.37,148.54 149.57,148.84 149.78,149.1 149.98,149.34 150.18,149.56 150.39,149.76 151.4,150.55 152.41,151.11 153.43,151.54 154.44,151.91 155.46,152.23 156.47,152.54 157.48,152.83 158.5,153.1 159.51,153.37 160.53,153.63 161.54,153.89 162.56,154.14 163.57,154.38 164.58,154.62 165.6,154.85 166.61,155.07 167.12,139.12 167.63,125.3 168.13,112.19 168.64,99.52 168.84,105.25 169.05,110.29 169.25,114.72 169.45,118.62 169.66,122.06 169.86,125.09 170.06,127.75 170.26,130.11 170.47,132.18 170.67,134.01 170.87,135.63 171.07,137.06 171.28,138.32 171.48,139.44 171.68,140.43 171.89,141.32 172.09,142.1 172.29,142.79 172.49,143.41 172.7,143.97 172.9,144.46 173.1,144.91 173.31,145.3 173.51,145.66 173.71,145.99 173.91,146.28 174.12,146.55 174.32,146.79 174.52,147.01 174.73,147.21 175.74,148.02 176.75,148.6 177.77,149.07 178.78,149.47 179.8,149.83 180.81,150.17 181.83,150.5 182.84,150.81 183.85,151.11 184.87,151.41 185.88,151.7 186.9,151.98 187.91,152.25 188.92,152.52 189.94,152.79 190.95,153.04 191.46,137.45 191.97,123.94 192.47,111.12 192.98,98.73 193.18,104.29 193.39,109.19 193.59,113.49 193.79,117.29 194,120.63 194.2,123.57 194.4,126.17 194.6,128.46 194.81,130.48 195.01,132.26 195.21,133.84 195.42,135.23 195.62,136.47 195.82,137.56 196.02,138.53 196.23,139.39 196.43,140.16 196.63,140.84 196.84,141.45 197.04,142 197.24,142.49 197.44,142.92 197.65,143.32 197.85,143.68 198.05,144 198.26,144.29 198.46,144.56 198.66,144.8 198.86,145.02 199.07,145.23 200.08,146.05 201.1,146.66 202.11,147.15 203.12,147.58 204.14,147.97 205.15,148.33 206.17,148.68 207.18,149.02 208.19,149.35 209.21,149.68 210.22,149.99 211.24,150.3 212.25,150.6 213.27,150.89 214.28,151.18 215.29,151.46 215.8,136.14 216.31,122.88 216.82,110.29 217.32,98.12 217.53,103.55 217.73,108.33 217.93,112.54 218.13,116.25 218.34,119.51 218.54,122.39 218.74,124.93 218.95,127.17 219.15,129.15 219.35,130.9 219.55,132.44 219.76,133.81 219.96,135.02 220.16,136.09 220.37,137.05 220.57,137.9 220.77,138.65 220.97,139.32 221.18,139.93 221.38,140.46 221.58,140.95 221.78,141.38 221.99,141.77 222.19,142.13 222.39,142.45 222.6,142.74 222.8,143.01 223,143.25 223.2,143.47 223.41,143.68 224.42,144.52 225.44,145.14 226.45,145.65 227.46,146.1 228.48,146.51 229.49,146.9 230.51,147.27 231.52,147.63 232.54,147.98 233.55,148.33 234.56,148.66 235.58,148.99 236.59,149.31 237.61,149.63 238.62,149.93 239.63,150.23 240.14,135.13 240.65,122.05 241.16,109.64 241.66,97.64 241.87,102.97 242.07,107.66 242.27,111.8 242.47,115.44 242.68,118.64 242.88,121.47 243.08,123.97 243.29,126.17 243.49,128.12 243.69,129.83 243.89,131.35 244.1,132.7 244.3,133.89 244.5,134.95 244.71,135.89 244.91,136.73 245.11,137.48 245.31,138.14 245.52,138.74 245.72,139.27 245.92,139.75 246.13,140.18 246.33,140.57 246.53,140.92 246.73,141.24 246.94,141.53 247.14,141.8 247.34,142.05 247.55,142.27 247.75,142.48 248.76,143.32 249.78,143.96 250.79,144.49 251.81,144.95 252.82,145.38 253.83,145.78 254.85,146.17 255.86,146.55 256.88,146.92 257.89,147.28 258.9,147.63 259.92,147.97 260.93,148.31 261.95,148.64 262.96,148.96 263.98,149.28 264.48,134.34 264.99,121.4 265.5,109.13 266,97.26 266.21,102.52 266.41,107.14 266.61,111.22 266.82,114.81 267.02,117.97 267.22,120.76 267.42,123.22 267.63,125.39 267.83,127.31 268.03,129.01 268.24,130.51 268.44,131.84 268.64,133.02 268.84,134.06 269.05,134.99 269.25,135.82 269.45,136.56 269.66,137.22 269.86,137.81 270.06,138.34 270.26,138.82 270.47,139.25 270.67,139.63 270.87,139.99 271.07,140.3 271.28,140.6 271.48,140.86 271.68,141.11 271.89,141.33 272.09,141.54 273.1,142.39 274.12,143.04 275.13,143.58 276.15,144.06 277.16,144.5 278.17,144.92 279.19,145.32 280.2,145.71 281.22,146.09 282.23,146.46 283.25,146.82 284.26,147.18 285.27,147.53 286.29,147.87 287.3,148.2 288.32,148.53 288.82,133.72 289.33,120.9 289.84,108.73 290.34,96.97 290.55,102.17 290.75,106.74 290.95,110.77 291.16,114.31 291.36,117.44 291.56,120.2 291.76,122.63 291.97,124.78 292.17,126.68 292.37,128.36 292.58,129.85 292.78,131.17 292.98,132.33 293.18,133.37 293.39,134.29 293.59,135.12 293.79,135.85 294,136.5 294.2,137.09 294.4,137.62 294.6,138.09 294.81,138.52 295.01,138.9 295.21,139.25 295.42,139.57 295.62,139.86 295.82,140.13 296.02,140.38 296.23,140.6 296.43,140.81 297.44,141.67 298.46,142.33 299.47,142.88 300.49,143.36 301.5,143.81 302.52,144.24 303.53,144.65 304.54,145.05 305.56,145.44 306.57,145.82 307.59,146.19 308.6,146.56 309.61,146.92 310.63,147.27 311.64,147.61 312.66,147.95 313.16,133.24 313.67,120.51 314.18,108.43 314.69,96.75 314.89,101.89 315.09,106.42 315.29,110.42 315.5,113.93 315.7,117.03 315.9,119.77 316.11,122.18 316.31,124.31 316.51,126.2 316.71,127.86 316.92,129.34 317.12,130.64 317.32,131.8 317.53,132.83 317.73,133.75 317.93,134.57 318.13,135.29 318.34,135.95 318.54,136.53 318.74,137.05 318.95,137.53 319.15,137.95 319.35,138.34 319.55,138.69 319.76,139 319.96,139.3 320.16,139.56 320.37,139.81 320.57,140.03 320.77,140.24 321.78,141.11 322.8,141.77 323.81,142.33 324.83,142.82 325.84,143.28 326.86,143.71 327.87,144.13 328.88,144.54 329.9,144.94 330.91,145.33 331.93,145.71 332.94,146.08 333.96,146.44 334.97,146.8 335.98,147.15 337,147.5 337.51,132.87 338.01,120.21 338.52,108.19 339.03,96.57 339.23,101.68 339.43,106.18 339.63,110.14 339.84,113.63 340.04,116.71 340.24,119.43 340.45,121.83 340.65,123.94 340.85,125.82 341.05,127.47 341.26,128.94 341.46,130.24 341.66,131.39 341.87,132.41 342.07,133.32 342.27,134.14 342.47,134.86 342.68,135.51 342.88,136.09 343.08,136.61 343.29,137.08 343.49,137.51 343.69,137.89 343.89,138.24 344.1,138.56 344.3,138.85 344.5,139.12 344.71,139.36 344.91,139.59 345.11,139.8 346.13,140.67 347.14,141.34 348.15,141.9 349.17,142.4 350.18,142.86 351.2,143.3 352.21,143.73 353.23,144.14 354.24,144.54 355.25,144.94 356.27,145.33 357.28,145.7 358.3,146.07 359.31,146.44 360.32,146.79 361.34,147.14 361.85,132.58 362.35,119.97 362.86,108 363.37,96.43 363.57,101.51 363.77,105.99 363.98,109.93 364.18,113.4 364.38,116.46 364.58,119.17 364.79,121.55 364.99,123.66 365.19,125.52 365.4,127.17 365.6,128.63 365.8,129.92 366,131.07 366.21,132.09 366.41,132.99 366.61,133.8 366.82,134.53 367.02,135.17 367.22,135.75 367.42,136.27 367.63,136.74 367.83,137.17 368.03,137.55 368.24,137.9 368.44,138.22 368.64,138.51 368.84,138.77 369.05,139.02 369.25,139.25 369.45,139.46 370.47,140.33 371.48,141 372.5,141.56 373.51,142.07 374.52,142.54 375.54,142.98 376.55,143.41 377.57,143.83 378.58,144.24 379.59,144.64 380.61,145.03 381.62,145.41 382.64,145.79 383.65,146.15 384.67,146.52 385.68,146.87 386.19,132.35 386.69,119.78 387.2,107.86 387.71,96.33 387.91,101.39 388.11,105.84 388.32,109.76 388.52,113.22 388.72,116.27 388.93,118.96 389.13,121.34 389.33,123.43 389.53,125.29 389.74,126.93 389.94,128.38 390.14,129.67 390.34,130.82 390.55,131.83 390.75,132.74 390.95,133.54 391.16,134.26 391.36,134.91 391.56,135.49 391.76,136.01 391.97,136.47 392.17,136.9 392.37,137.28 392.58,137.63 392.78,137.95 392.98,138.24 393.18,138.5 393.39,138.75 393.59,138.98 393.79,139.19 394.81,140.06 395.82,140.74 396.84,141.3 397.85,141.81 398.86,142.28 399.88,142.73 400.89,143.17 401.91,143.59 402.92,144 403.94,144.4 404.95,144.8 405.96,145.18 406.98,145.56 407.99,145.93 409.01,146.3 410.02,146.65 410.53,132.18 411.03,119.64 411.54,107.74 412.05,96.24 412.25,101.28 412.45,105.72 412.66,109.63 412.86,113.08 413.06,116.12 413.27,118.8 413.47,121.17 413.67,123.26 413.87,125.11 414.08,126.75 414.28,128.19 414.48,129.48 414.69,130.62 414.89,131.63 415.09,132.54 415.29,133.34 415.5,134.06 415.7,134.7 415.9,135.28 416.11,135.8 416.31,136.27 416.51,136.69 416.71,137.07 416.92,137.42 417.12,137.74 417.32,138.03 417.53,138.29 417.73,138.54 417.93,138.77 418.13,138.98 419.15,139.85 420.16,140.53 421.18,141.1 422.19,141.61 423.21,142.09 424.22,142.54 425.23,142.98 426.25,143.4 427.26,143.82 428.28,144.22 429.29,144.62 430.3,145.01 431.32,145.39 432.33,145.76 433.35,146.13 434.36,146.49 434.36,161.47 433.35,161.33 432.33,161.2 431.32,161.06 430.3,160.91 429.29,160.75 428.28,160.59 427.26,160.41 426.25,160.22 425.23,160.02 424.22,159.81 423.21,159.56 422.19,159.29 421.18,158.98 420.16,158.6 419.15,158.14 418.13,157.56 417.93,157.43 417.73,157.28 417.53,157.13 417.32,156.97 417.12,156.8 416.92,156.62 416.71,156.43 416.51,156.23 416.31,156.01 416.11,155.78 415.9,155.54 415.7,155.28 415.5,155 415.29,154.7 415.09,154.38 414.89,154.04 414.69,153.67 414.48,153.28 414.28,152.86 414.08,152.41 413.87,151.93 413.67,151.41 413.47,150.85 413.27,150.25 413.06,149.6 412.86,148.9 412.66,148.15 412.45,147.35 412.25,146.48 412.05,145.54 411.54,149.18 411.03,152.94 410.53,156.9 410.02,161.48 409.01,161.35 407.99,161.21 406.98,161.07 405.96,160.93 404.95,160.77 403.94,160.6 402.92,160.43 401.91,160.24 400.89,160.05 399.88,159.83 398.86,159.59 397.85,159.31 396.84,159 395.82,158.63 394.81,158.17 393.79,157.59 393.59,157.45 393.39,157.31 393.18,157.16 392.98,157 392.78,156.83 392.58,156.65 392.37,156.46 392.17,156.26 391.97,156.04 391.76,155.81 391.56,155.57 391.36,155.31 391.16,155.03 390.95,154.73 390.75,154.41 390.55,154.07 390.34,153.71 390.14,153.31 389.94,152.89 389.74,152.44 389.53,151.96 389.33,151.44 389.13,150.88 388.93,150.28 388.72,149.63 388.52,148.94 388.32,148.19 388.11,147.38 387.91,146.51 387.71,145.58 387.2,149.21 386.69,152.97 386.19,156.93 385.68,161.5 384.67,161.37 383.65,161.24 382.64,161.09 381.62,160.95 380.61,160.79 379.59,160.63 378.58,160.46 377.57,160.27 376.55,160.07 375.54,159.86 374.52,159.62 373.51,159.35 372.5,159.03 371.48,158.66 370.47,158.2 369.45,157.63 369.25,157.49 369.05,157.35 368.84,157.2 368.64,157.04 368.44,156.87 368.24,156.69 368.03,156.5 367.83,156.3 367.63,156.08 367.42,155.85 367.22,155.61 367.02,155.35 366.82,155.07 366.61,154.77 366.41,154.45 366.21,154.11 366,153.75 365.8,153.36 365.6,152.94 365.4,152.49 365.19,152 364.99,151.48 364.79,150.93 364.58,150.33 364.38,149.68 364.18,148.98 363.98,148.24 363.77,147.43 363.57,146.56 363.37,145.62 362.86,149.25 362.35,153 361.85,156.96 361.34,161.52 360.32,161.39 359.31,161.26 358.3,161.12 357.28,160.98 356.27,160.82 355.25,160.66 354.24,160.49 353.23,160.3 352.21,160.11 351.2,159.89 350.18,159.65 349.17,159.38 348.15,159.07 347.14,158.7 346.13,158.25 345.11,157.67 344.91,157.54 344.71,157.4 344.5,157.25 344.3,157.09 344.1,156.92 343.89,156.74 343.69,156.55 343.49,156.35 343.29,156.13 343.08,155.9 342.88,155.66 342.68,155.4 342.47,155.12 342.27,154.82 342.07,154.51 341.87,154.17 341.66,153.8 341.46,153.41 341.26,152.99 341.05,152.54 340.85,152.06 340.65,151.54 340.45,150.98 340.24,150.38 340.04,149.74 339.84,149.04 339.63,148.29 339.43,147.49 339.23,146.62 339.03,145.68 338.52,149.3 338.01,153.05 337.51,157 337,161.55 335.98,161.43 334.97,161.29 333.96,161.16 332.94,161.01 331.93,160.86 330.91,160.7 329.9,160.53 328.88,160.35 327.87,160.15 326.86,159.94 325.84,159.7 324.83,159.44 323.81,159.13 322.8,158.76 321.78,158.31 320.77,157.73 320.57,157.6 320.37,157.46 320.16,157.31 319.96,157.15 319.76,156.98 319.55,156.8 319.35,156.61 319.15,156.41 318.95,156.2 318.74,155.97 318.54,155.73 318.34,155.47 318.13,155.19 317.93,154.89 317.73,154.57 317.53,154.23 317.32,153.87 317.12,153.48 316.92,153.06 316.71,152.61 316.51,152.13 316.31,151.61 316.11,151.05 315.9,150.45 315.7,149.81 315.5,149.12 315.29,148.37 315.09,147.56 314.89,146.69 314.69,145.76 314.18,149.37 313.67,153.11 313.16,157.05 312.66,161.59 311.64,161.47 310.63,161.34 309.61,161.2 308.6,161.06 307.59,160.91 306.57,160.75 305.56,160.58 304.54,160.4 303.53,160.21 302.52,160 301.5,159.76 300.49,159.5 299.47,159.19 298.46,158.83 297.44,158.38 296.43,157.81 296.23,157.67 296.02,157.53 295.82,157.39 295.62,157.23 295.42,157.06 295.21,156.88 295.01,156.69 294.81,156.49 294.6,156.28 294.4,156.05 294.2,155.81 294,155.55 293.79,155.27 293.59,154.98 293.39,154.66 293.18,154.32 292.98,153.96 292.78,153.57 292.58,153.15 292.37,152.7 292.17,152.22 291.97,151.7 291.76,151.15 291.56,150.55 291.36,149.9 291.16,149.21 290.95,148.46 290.75,147.66 290.55,146.79 290.34,145.86 289.84,149.46 289.33,153.18 288.82,157.11 288.32,161.64 287.3,161.52 286.29,161.39 285.27,161.26 284.26,161.12 283.25,160.97 282.23,160.81 281.22,160.65 280.2,160.47 279.19,160.28 278.17,160.07 277.16,159.84 276.15,159.58 275.13,159.28 274.12,158.92 273.1,158.47 272.09,157.91 271.89,157.77 271.68,157.63 271.48,157.49 271.28,157.33 271.07,157.16 270.87,156.99 270.67,156.8 270.47,156.6 270.26,156.39 270.06,156.16 269.86,155.92 269.66,155.66 269.45,155.38 269.25,155.09 269.05,154.77 268.84,154.43 268.64,154.07 268.44,153.68 268.24,153.27 268.03,152.82 267.83,152.34 267.63,151.82 267.42,151.27 267.22,150.67 267.02,150.03 266.82,149.33 266.61,148.59 266.41,147.78 266.21,146.92 266,145.98 265.5,149.57 264.99,153.28 264.48,157.19 263.98,161.71 262.96,161.59 261.95,161.46 260.93,161.33 259.92,161.19 258.9,161.05 257.89,160.9 256.88,160.74 255.86,160.56 254.85,160.38 253.83,160.17 252.82,159.95 251.81,159.69 250.79,159.39 249.78,159.04 248.76,158.59 247.75,158.03 247.55,157.9 247.34,157.76 247.14,157.62 246.94,157.46 246.73,157.29 246.53,157.12 246.33,156.93 246.13,156.73 245.92,156.52 245.72,156.3 245.52,156.06 245.31,155.8 245.11,155.52 244.91,155.23 244.71,154.92 244.5,154.58 244.3,154.22 244.1,153.83 243.89,153.41 243.69,152.97 243.49,152.49 243.29,151.97 243.08,151.42 242.88,150.82 242.68,150.18 242.47,149.49 242.27,148.75 242.07,147.94 241.87,147.08 241.66,146.15 241.16,149.72 240.65,153.41 240.14,157.3 239.63,161.79 238.62,161.67 237.61,161.55 236.59,161.43 235.58,161.29 234.56,161.15 233.55,161 232.54,160.85 231.52,160.68 230.51,160.5 229.49,160.3 228.48,160.08 227.46,159.83 226.45,159.54 225.44,159.19 224.42,158.75 223.41,158.2 223.2,158.07 223,157.93 222.8,157.78 222.6,157.63 222.39,157.46 222.19,157.29 221.99,157.1 221.78,156.91 221.58,156.7 221.38,156.47 221.18,156.23 220.97,155.98 220.77,155.7 220.57,155.41 220.37,155.1 220.16,154.76 219.96,154.4 219.76,154.02 219.55,153.6 219.35,153.16 219.15,152.68 218.95,152.17 218.74,151.62 218.54,151.02 218.34,150.38 218.13,149.69 217.93,148.95 217.73,148.15 217.53,147.29 217.32,146.35 216.82,149.9 216.31,153.57 215.8,157.44 215.29,161.9 214.28,161.79 213.27,161.67 212.25,161.55 211.24,161.42 210.22,161.28 209.21,161.14 208.19,160.99 207.18,160.83 206.17,160.65 205.15,160.46 204.14,160.25 203.12,160 202.11,159.72 201.1,159.38 200.08,158.95 199.07,158.4 198.86,158.28 198.66,158.14 198.46,158 198.26,157.84 198.05,157.68 197.85,157.51 197.65,157.32 197.44,157.13 197.24,156.92 197.04,156.7 196.84,156.46 196.63,156.21 196.43,155.94 196.23,155.65 196.02,155.34 195.82,155 195.62,154.64 195.42,154.26 195.21,153.85 195.01,153.41 194.81,152.93 194.6,152.42 194.4,151.87 194.2,151.28 194,150.64 193.79,149.95 193.59,149.21 193.39,148.41 193.18,147.55 192.98,146.62 192.47,150.14 191.97,153.78 191.46,157.61 190.95,162.04 189.94,161.93 188.92,161.82 187.91,161.7 186.9,161.58 185.88,161.45 184.87,161.32 183.85,161.17 182.84,161.02 181.83,160.85 180.81,160.67 179.8,160.47 178.78,160.23 177.77,159.96 176.75,159.62 175.74,159.21 174.73,158.67 174.52,158.55 174.32,158.41 174.12,158.27 173.91,158.12 173.71,157.96 173.51,157.79 173.31,157.61 173.1,157.42 172.9,157.21 172.7,156.99 172.49,156.75 172.29,156.5 172.09,156.23 171.89,155.95 171.68,155.64 171.48,155.31 171.28,154.95 171.07,154.57 170.87,154.16 170.67,153.72 170.47,153.25 170.26,152.74 170.06,152.19 169.86,151.6 169.66,150.97 169.45,150.28 169.25,149.54 169.05,148.75 168.84,147.89 168.64,146.97 168.13,150.44 167.63,154.04 167.12,157.83 166.61,162.21 165.6,162.11 164.58,162.01 163.57,161.9 162.56,161.79 161.54,161.67 160.53,161.54 159.51,161.41 158.5,161.27 157.48,161.11 156.47,160.94 155.46,160.74 154.44,160.52 153.43,160.26 152.41,159.94 151.4,159.54 150.39,159.01 150.18,158.89 149.98,158.76 149.78,158.62 149.57,158.47 149.37,158.32 149.17,158.15 148.97,157.97 148.76,157.78 148.56,157.58 148.36,157.36 148.15,157.13 147.95,156.88 147.75,156.62 147.55,156.33 147.34,156.03 147.14,155.7 146.94,155.35 146.73,154.97 146.53,154.56 146.33,154.13 146.13,153.66 145.92,153.15 145.72,152.61 145.52,152.02 145.31,151.39 145.11,150.71 144.91,149.97 144.71,149.18 144.5,148.33 144.3,147.41 143.79,150.84 143.29,154.38 142.78,158.12 142.27,162.44 141.26,162.35 140.24,162.26 139.23,162.16 138.21,162.06 137.2,161.95 136.19,161.84 135.17,161.71 134.16,161.58 133.14,161.44 132.13,161.28 131.12,161.1 130.1,160.9 129.09,160.65 128.07,160.34 127.06,159.96 126.04,159.46 125.84,159.34 125.64,159.21 125.44,159.07 125.23,158.93 125.03,158.78 124.83,158.61 124.62,158.44 124.42,158.25 124.22,158.06 124.02,157.84 123.81,157.61 123.61,157.37 123.41,157.11 123.2,156.83 123,156.53 122.8,156.2 122.6,155.86 122.39,155.48 122.19,155.08 121.99,154.65 121.78,154.18 121.58,153.68 121.38,153.14 121.18,152.56 120.97,151.93 120.77,151.26 120.57,150.53 120.36,149.74 120.16,148.89 119.96,147.97 119.45,151.34 118.95,154.82 118.44,158.49 117.93,162.73 116.92,162.65 115.9,162.57 114.89,162.49 113.87,162.4 112.86,162.31 111.85,162.21 110.83,162.1 109.82,161.99 108.8,161.86 107.79,161.72 106.77,161.56 105.76,161.37 104.75,161.15 103.73,160.87 102.72,160.5 101.7,160.02 101.5,159.91 101.3,159.79 101.1,159.66 100.89,159.52 100.69,159.37 100.49,159.21 100.28,159.04 100.08,158.86 99.88,158.67 99.68,158.46 99.47,158.24 99.27,158 99.07,157.74 98.86,157.47 98.66,157.17 98.46,156.85 98.26,156.51 98.05,156.14 97.85,155.74 97.65,155.32 97.44,154.86 97.24,154.36 97.04,153.83 96.84,153.25 96.63,152.63 96.43,151.96 96.23,151.24 96.02,150.46 95.82,149.61 95.62,148.7 95.11,152.3 94.6,156.03 94.1,159.96 93.59,164.5" fill="#333" fill-opacity="0.19"/>
<polyline points="93.59,164.5 94.1,156.77 94.6,150.07 95.11,143.72 95.62,137.58 95.82,139.33 96.02,140.95 96.23,142.44 96.43,143.81 96.63,145.07 96.84,146.23 97.04,147.3 97.24,148.29 97.44,149.2 97.65,150.03 97.85,150.81 98.05,151.52 98.26,152.18 98.46,152.79 98.66,153.35 98.86,153.87 99.07,154.35 99.27,154.79 99.47,155.2 99.68,155.58 99.88,155.93 100.08,156.26 100.28,156.56 100.49,156.84 100.69,157.1 100.89,157.34 101.1,157.57 101.3,157.78 101.5,157.97 101.7,158.16 102.72,158.9 103.73,159.45 104.75,159.85 105.76,160.17 106.77,160.43 107.79,160.64 108.8,160.83 109.82,161 110.83,161.15 111.85,161.29 112.86,161.41 113.87,161.54 114.89,161.65 115.9,161.76 116.92,161.87 117.93,161.97 118.44,154.49 118.95,148.01 119.45,141.86 119.96,135.92 120.16,137.66 120.36,139.26 120.57,140.73 120.77,142.09 120.97,143.34 121.18,144.5 121.38,145.56 121.58,146.54 121.78,147.45 121.99,148.28 122.19,149.05 122.39,149.77 122.6,150.42 122.8,151.03 123,151.59 123.2,152.11 123.41,152.6 123.61,153.04 123.81,153.45 124.02,153.84 124.22,154.19 124.42,154.52 124.62,154.83 124.83,155.11 125.03,155.38 125.23,155.63 125.44,155.86 125.64,156.07 125.84,156.27 126.04,156.46 127.06,157.24 128.07,157.82 129.09,158.26 130.1,158.62 131.12,158.91 132.13,159.16 133.14,159.39 134.16,159.59 135.17,159.77 136.19,159.94 137.2,160.11 138.21,160.26 139.23,160.41 140.24,160.55 141.26,160.69 142.27,160.82 142.78,153.3 143.29,146.79 143.79,140.6 144.3,134.63 144.5,136.35 144.71,137.94 144.91,139.41 145.11,140.76 145.31,142 145.52,143.15 145.72,144.21 145.92,145.19 146.13,146.09 146.33,146.92 146.53,147.69 146.73,148.4 146.94,149.06 147.14,149.67 147.34,150.23 147.55,150.75 147.75,151.23 147.95,151.68 148.15,152.1 148.36,152.48 148.56,152.84 148.76,153.17 148.97,153.49 149.17,153.77 149.37,154.04 149.57,154.3 149.78,154.53 149.98,154.75 150.18,154.96 150.39,155.15 151.4,155.95 152.41,156.56 153.43,157.03 154.44,157.41 155.46,157.73 156.47,158.01 157.48,158.26 158.5,158.49 159.51,158.7 160.53,158.9 161.54,159.09 162.56,159.27 163.57,159.45 164.58,159.61 165.6,159.77 166.61,159.93 167.12,152.37 167.63,145.83 168.13,139.62 168.64,133.62 168.84,135.34 169.05,136.92 169.25,138.38 169.45,139.72 169.66,140.96 169.86,142.1 170.06,143.16 170.26,144.13 170.47,145.03 170.67,145.86 170.87,146.63 171.07,147.34 171.28,148 171.48,148.6 171.68,149.17 171.89,149.69 172.09,150.17 172.29,150.62 172.49,151.04 172.7,151.43 172.9,151.79 173.1,152.13 173.31,152.44 173.51,152.73 173.71,153 173.91,153.26 174.12,153.5 174.32,153.72 174.52,153.93 174.73,154.13 175.74,154.95 176.75,155.58 177.77,156.07 178.78,156.47 179.8,156.82 180.81,157.12 181.83,157.39 182.84,157.64 183.85,157.87 184.87,158.09 185.88,158.3 186.9,158.5 187.91,158.69 188.92,158.88 189.94,159.06 190.95,159.23 191.46,151.65 191.97,145.09 192.47,138.86 192.98,132.84 193.18,134.55 193.39,136.12 193.59,137.57 193.79,138.91 194,140.15 194.2,141.28 194.4,142.34 194.6,143.31 194.81,144.21 195.01,145.03 195.21,145.8 195.42,146.51 195.62,147.17 195.82,147.78 196.02,148.34 196.23,148.86 196.43,149.35 196.63,149.8 196.84,150.22 197.04,150.61 197.24,150.97 197.44,151.31 197.65,151.62 197.85,151.92 198.05,152.19 198.26,152.45 198.46,152.69 198.66,152.92 198.86,153.13 199.07,153.33 200.08,154.17 201.1,154.81 202.11,155.32 203.12,155.74 204.14,156.1 205.15,156.42 206.17,156.71 207.18,156.98 208.19,157.23 209.21,157.46 210.22,157.69 211.24,157.9 212.25,158.11 213.27,158.31 214.28,158.5 215.29,158.69 215.8,151.09 216.31,144.51 216.82,138.26 217.32,132.23 217.53,133.93 217.73,135.5 217.93,136.95 218.13,138.28 218.34,139.51 218.54,140.65 218.74,141.7 218.95,142.67 219.15,143.56 219.35,144.39 219.55,145.16 219.76,145.87 219.96,146.52 220.16,147.13 220.37,147.7 220.57,148.22 220.77,148.71 220.97,149.16 221.18,149.58 221.38,149.97 221.58,150.33 221.78,150.67 221.99,150.99 222.19,151.29 222.39,151.56 222.6,151.82 222.8,152.07 223,152.29 223.2,152.51 223.41,152.71 224.42,153.56 225.44,154.22 226.45,154.74 227.46,155.18 228.48,155.55 229.49,155.88 230.51,156.18 231.52,156.46 232.54,156.72 233.55,156.97 234.56,157.21 235.58,157.43 236.59,157.65 237.61,157.86 238.62,158.07 239.63,158.27 240.14,150.65 240.65,144.06 241.16,137.8 241.66,131.75 241.87,133.45 242.07,135.02 242.27,136.46 242.47,137.79 242.68,139.02 242.88,140.15 243.08,141.2 243.29,142.17 243.49,143.06 243.69,143.89 243.89,144.66 244.1,145.37 244.3,146.02 244.5,146.63 244.71,147.2 244.91,147.72 245.11,148.21 245.31,148.66 245.52,149.08 245.72,149.47 245.92,149.84 246.13,150.18 246.33,150.5 246.53,150.79 246.73,151.07 246.94,151.33 247.14,151.58 247.34,151.81 247.55,152.02 247.75,152.23 248.76,153.09 249.78,153.75 250.79,154.29 251.81,154.73 252.82,155.12 253.83,155.46 254.85,155.77 255.86,156.06 256.88,156.33 257.89,156.59 258.9,156.83 259.92,157.07 260.93,157.3 261.95,157.52 262.96,157.73 263.98,157.94 264.48,150.31 264.99,143.71 265.5,137.44 266,131.38 266.21,133.08 266.41,134.64 266.61,136.08 266.82,137.41 267.02,138.63 267.22,139.77 267.42,140.81 267.63,141.78 267.83,142.67 268.03,143.5 268.24,144.27 268.44,144.98 268.64,145.63 268.84,146.24 269.05,146.81 269.25,147.33 269.45,147.82 269.66,148.27 269.86,148.69 270.06,149.09 270.26,149.45 270.47,149.79 270.67,150.11 270.87,150.41 271.07,150.69 271.28,150.95 271.48,151.2 271.68,151.43 271.89,151.65 272.09,151.85 273.1,152.72 274.12,153.39 275.13,153.94 276.15,154.39 277.16,154.78 278.17,155.13 279.19,155.45 280.2,155.75 281.22,156.03 282.23,156.29 283.25,156.54 284.26,156.79 285.27,157.02 286.29,157.25 287.3,157.47 288.32,157.68 288.82,150.05 289.33,143.43 289.84,137.16 290.34,131.1 290.55,132.79 290.75,134.35 290.95,135.78 291.16,137.11 291.36,138.34 291.56,139.47 291.76,140.51 291.97,141.48 292.17,142.37 292.37,143.2 292.58,143.96 292.78,144.67 292.98,145.33 293.18,145.94 293.39,146.5 293.59,147.03 293.79,147.51 294,147.97 294.2,148.39 294.4,148.78 294.6,149.15 294.81,149.49 295.01,149.81 295.21,150.11 295.42,150.39 295.62,150.66 295.82,150.9 296.02,151.14 296.23,151.35 296.43,151.56 297.44,152.43 298.46,153.11 299.47,153.66 300.49,154.12 301.5,154.52 302.52,154.88 303.53,155.2 304.54,155.5 305.56,155.79 306.57,156.06 307.59,156.32 308.6,156.57 309.61,156.81 310.63,157.04 311.64,157.26 312.66,157.48 313.16,149.84 313.67,143.22 314.18,136.94 314.69,130.87 314.89,132.56 315.09,134.12 315.29,135.55 315.5,136.88 315.7,138.1 315.9,139.23 316.11,140.28 316.31,141.24 316.51,142.14 316.71,142.96 316.92,143.73 317.12,144.43 317.32,145.09 317.53,145.7 317.73,146.27 317.93,146.79 318.13,147.28 318.34,147.73 318.54,148.15 318.74,148.55 318.95,148.92 319.15,149.26 319.35,149.58 319.55,149.88 319.76,150.16 319.96,150.43 320.16,150.67 320.37,150.91 320.57,151.13 320.77,151.33 321.78,152.21 322.8,152.89 323.81,153.45 324.83,153.91 325.84,154.32 326.86,154.68 327.87,155.01 328.88,155.31 329.9,155.6 330.91,155.88 331.93,156.14 332.94,156.39 333.96,156.64 334.97,156.87 335.98,157.1 337,157.33 337.51,149.68 338.01,143.06 338.52,136.77 339.03,130.7 339.23,132.38 339.43,133.94 339.63,135.37 339.84,136.7 340.04,137.92 340.24,139.05 340.45,140.09 340.65,141.06 340.85,141.95 341.05,142.78 341.26,143.54 341.46,144.25 341.66,144.91 341.87,145.52 342.07,146.08 342.27,146.61 342.47,147.09 342.68,147.55 342.88,147.97 343.08,148.37 343.29,148.73 343.49,149.08 343.69,149.4 343.89,149.7 344.1,149.98 344.3,150.25 344.5,150.49 344.71,150.73 344.91,150.95 345.11,151.15 346.13,152.04 347.14,152.72 348.15,153.28 349.17,153.75 350.18,154.16 351.2,154.52 352.21,154.86 353.23,155.17 354.24,155.46 355.25,155.74 356.27,156 357.28,156.26 358.3,156.51 359.31,156.75 360.32,156.98 361.34,157.2 361.85,149.55 362.35,142.93 362.86,136.64 363.37,130.56 363.57,132.25 363.77,133.8 363.98,135.23 364.18,136.56 364.38,137.78 364.58,138.91 364.79,139.95 364.99,140.92 365.19,141.81 365.4,142.63 365.6,143.4 365.8,144.11 366,144.76 366.21,145.37 366.41,145.94 366.61,146.46 366.82,146.95 367.02,147.41 367.22,147.83 367.42,148.22 367.63,148.59 367.83,148.94 368.03,149.26 368.24,149.56 368.44,149.84 368.64,150.11 368.84,150.35 369.05,150.59 369.25,150.81 369.45,151.02 370.47,151.9 371.48,152.59 372.5,153.15 373.51,153.62 374.52,154.03 375.54,154.4 376.55,154.74 377.57,155.05 378.58,155.35 379.59,155.63 380.61,155.9 381.62,156.16 382.64,156.41 383.65,156.65 384.67,156.88 385.68,157.11 386.19,149.46 386.69,142.83 387.2,136.53 387.71,130.45 387.91,132.14 388.11,133.69 388.32,135.13 388.52,136.45 388.72,137.67 388.93,138.8 389.13,139.84 389.33,140.81 389.53,141.7 389.74,142.52 389.94,143.29 390.14,143.99 390.34,144.65 390.55,145.26 390.75,145.83 390.95,146.35 391.16,146.84 391.36,147.29 391.56,147.72 391.76,148.11 391.97,148.48 392.17,148.83 392.37,149.15 392.58,149.45 392.78,149.73 392.98,150 393.18,150.25 393.39,150.48 393.59,150.7 393.79,150.91 394.81,151.8 395.82,152.49 396.84,153.05 397.85,153.52 398.86,153.94 399.88,154.31 400.89,154.65 401.91,154.96 402.92,155.26 403.94,155.54 404.95,155.81 405.96,156.08 406.98,156.33 407.99,156.57 409.01,156.81 410.02,157.04 410.53,149.38 411.03,142.75 411.54,136.45 412.05,130.37 412.25,132.06 412.45,133.61 412.66,135.04 412.86,136.36 413.06,137.58 413.27,138.71 413.47,139.75 413.67,140.72 413.87,141.61 414.08,142.44 414.28,143.2 414.48,143.91 414.69,144.56 414.89,145.17 415.09,145.74 415.29,146.26 415.5,146.75 415.7,147.21 415.9,147.63 416.11,148.03 416.31,148.39 416.51,148.74 416.71,149.06 416.92,149.36 417.12,149.65 417.32,149.91 417.53,150.16 417.73,150.4 417.93,150.62 418.13,150.83 419.15,151.71 420.16,152.41 421.18,152.97 422.19,153.45 423.21,153.86 424.22,154.23 425.23,154.57 426.25,154.89 427.26,155.19 428.28,155.48 429.29,155.75 430.3,156.01 431.32,156.27 432.33,156.51 433.35,156.75 434.36,156.98" fill="none" stroke="#1a1a1a" stroke-width="1.1" stroke-linejoin="round"/>
<text transform="translate(73.25 166.9) scale(0.9 1)" text-anchor="end" class="tk">0</text>
<text transform="translate(73.25 147.94) scale(0.9 1)" text-anchor="end" class="tk">30</text>
<text transform="translate(73.25 128.98) scale(0.9 1)" text-anchor="end" class="tk">60</text>
<text transform="translate(73.25 110.02) scale(0.9 1)" text-anchor="end" class="tk">90</text>
<path d="M74.85 164.5H76.55M74.85 145.54H76.55M74.85 126.58H76.55M74.85 107.62H76.55" stroke="#333" stroke-width="0.8" fill="none"/>
<text transform="translate(455.4 129.2) rotate(90)" text-anchor="middle" class="st" textLength="11.2" lengthAdjust="spacingAndGlyphs">R+S</text>
<rect x="76.55" y="171.7" width="374.85" height="76.9" fill="#ebebeb"/>
<rect x="451.4" y="171.7" width="11.7" height="76.9" fill="#d9d9d9"/>
<path d="M76.55 235.94H451.4M76.55 217H451.4M76.55 198.07H451.4M76.55 179.15H451.4" stroke="#fff" stroke-width="1.0" stroke-opacity="0.42" fill="none"/>
<path d="M144.3 171.7V248.6M245.72 171.7V248.6M347.14 171.7V248.6M448.56 171.7V248.6" stroke="#fff" stroke-width="0.9" stroke-opacity="0.42" fill="none"/>
<path d="M76.55 245.4H451.4M76.55 226.47H451.4M76.55 207.54H451.4M76.55 188.61H451.4" stroke="#fff" stroke-width="1.0" stroke-opacity="0.62" fill="none"/>
<path d="M93.59 171.7V248.6M195.01 171.7V248.6M296.43 171.7V248.6M397.85 171.7V248.6" stroke="#fff" stroke-width="1.0" stroke-opacity="0.85" fill="none"/>
<rect x="448.4" y="171.7" width="3" height="76.9" fill="#fff" fill-opacity="0.22"/>
<polygon points="93.59,245.4 94.1,236.03 94.6,227.92 95.11,220.22 95.62,212.78 95.82,216.31 96.02,219.41 96.23,222.14 96.43,224.53 96.63,226.64 96.84,228.49 97.04,230.11 97.24,231.55 97.44,232.8 97.65,233.91 97.85,234.88 98.05,235.74 98.26,236.49 98.46,237.16 98.66,237.74 98.86,238.25 99.07,238.71 99.27,239.11 99.47,239.46 99.68,239.77 99.88,240.05 100.08,240.29 100.28,240.51 100.49,240.7 100.69,240.87 100.89,241.02 101.1,241.15 101.3,241.27 101.5,241.38 101.7,241.47 102.72,241.82 103.73,242.03 104.75,242.18 105.76,242.28 106.77,242.36 107.79,242.44 108.8,242.5 109.82,242.57 110.83,242.63 111.85,242.68 112.86,242.74 113.87,242.79 114.89,242.85 115.9,242.9 116.92,242.95 117.93,243 118.44,234.11 118.95,226.41 119.45,219.1 119.96,212.04 120.16,215.32 120.36,218.21 120.57,220.75 120.77,222.98 120.97,224.95 121.18,226.67 121.38,228.19 121.58,229.53 121.78,230.71 121.99,231.75 122.19,232.66 122.39,233.47 122.6,234.18 122.8,234.81 123,235.36 123.2,235.85 123.41,236.29 123.61,236.67 123.81,237.01 124.02,237.31 124.22,237.58 124.42,237.82 124.62,238.03 124.83,238.22 125.03,238.39 125.23,238.54 125.44,238.68 125.64,238.8 125.84,238.91 126.04,239.01 127.06,239.39 128.07,239.65 129.09,239.83 130.1,239.99 131.12,240.12 132.13,240.24 133.14,240.35 134.16,240.46 135.17,240.57 136.19,240.67 137.2,240.77 138.21,240.87 139.23,240.96 140.24,241.05 141.26,241.15 142.27,241.24 142.78,232.68 143.29,225.28 143.79,218.25 144.3,211.46 144.5,214.57 144.71,217.3 144.91,219.7 145.11,221.82 145.31,223.68 145.52,225.32 145.72,226.76 145.92,228.04 146.13,229.16 146.33,230.15 146.53,231.02 146.73,231.79 146.94,232.47 147.14,233.07 147.34,233.6 147.55,234.08 147.75,234.49 147.95,234.87 148.15,235.2 148.36,235.49 148.56,235.75 148.76,235.99 148.97,236.2 149.17,236.39 149.37,236.55 149.57,236.71 149.78,236.84 149.98,236.97 150.18,237.08 150.39,237.19 151.4,237.59 152.41,237.88 153.43,238.1 154.44,238.29 155.46,238.46 156.47,238.62 157.48,238.76 158.5,238.91 159.51,239.05 160.53,239.18 161.54,239.31 162.56,239.44 163.57,239.57 164.58,239.69 165.6,239.81 166.61,239.93 167.12,231.63 167.63,224.43 168.13,217.61 168.64,211.01 168.84,213.99 169.05,216.61 169.25,218.92 169.45,220.95 169.66,222.73 169.86,224.31 170.06,225.7 170.26,226.92 170.47,228 170.67,228.96 170.87,229.8 171.07,230.54 171.28,231.2 171.48,231.78 171.68,232.3 171.89,232.76 172.09,233.17 172.29,233.53 172.49,233.85 172.7,234.14 172.9,234.4 173.1,234.63 173.31,234.84 173.51,235.03 173.71,235.2 173.91,235.35 174.12,235.49 174.32,235.62 174.52,235.74 174.73,235.84 175.74,236.27 176.75,236.58 177.77,236.83 178.78,237.04 179.8,237.23 180.81,237.42 181.83,237.59 182.84,237.76 183.85,237.92 184.87,238.08 185.88,238.24 186.9,238.39 187.91,238.54 188.92,238.69 189.94,238.83 190.95,238.97 191.46,230.84 191.97,223.8 192.47,217.12 192.98,210.66 193.18,213.55 193.39,216.09 193.59,218.32 193.79,220.29 194,222.03 194.2,223.56 194.4,224.9 194.6,226.09 194.81,227.14 195.01,228.07 195.21,228.89 195.42,229.62 195.62,230.26 195.82,230.83 196.02,231.34 196.23,231.79 196.43,232.19 196.63,232.54 196.84,232.86 197.04,233.15 197.24,233.4 197.44,233.63 197.65,233.84 197.85,234.03 198.05,234.2 198.26,234.35 198.46,234.49 198.66,234.62 198.86,234.74 199.07,234.85 200.08,235.29 201.1,235.62 202.11,235.88 203.12,236.12 204.14,236.33 205.15,236.53 206.17,236.72 207.18,236.91 208.19,237.09 209.21,237.27 210.22,237.44 211.24,237.61 212.25,237.78 213.27,237.94 214.28,238.1 215.29,238.26 215.8,230.25 216.31,223.32 216.82,216.75 217.32,210.39 217.53,213.21 217.73,215.69 217.93,217.87 218.13,219.8 218.34,221.5 218.54,222.99 218.74,224.31 218.95,225.48 219.15,226.51 219.35,227.41 219.55,228.22 219.76,228.93 219.96,229.56 220.16,230.12 220.37,230.62 220.57,231.06 220.77,231.46 220.97,231.81 221.18,232.13 221.38,232.41 221.58,232.66 221.78,232.89 221.99,233.1 222.19,233.29 222.39,233.46 222.6,233.61 222.8,233.75 223,233.88 223.2,234 223.41,234.11 224.42,234.56 225.44,234.9 226.45,235.19 227.46,235.43 228.48,235.66 229.49,235.88 230.51,236.08 231.52,236.28 232.54,236.48 233.55,236.67 234.56,236.86 235.58,237.04 236.59,237.22 237.61,237.39 238.62,237.56 239.63,237.73 240.14,229.82 240.65,222.96 241.16,216.46 241.66,210.18 241.87,212.95 242.07,215.39 242.27,217.54 242.47,219.43 242.68,221.1 242.88,222.57 243.08,223.87 243.29,225.02 243.49,226.03 243.69,226.93 243.89,227.72 244.1,228.42 244.3,229.05 244.5,229.6 244.71,230.09 244.91,230.53 245.11,230.92 245.31,231.27 245.52,231.58 245.72,231.87 245.92,232.12 246.13,232.35 246.33,232.55 246.53,232.74 246.73,232.91 246.94,233.07 247.14,233.21 247.34,233.34 247.55,233.46 247.75,233.57 248.76,234.03 249.78,234.38 250.79,234.67 251.81,234.93 252.82,235.17 253.83,235.39 254.85,235.61 255.86,235.82 256.88,236.03 257.89,236.23 258.9,236.42 259.92,236.62 260.93,236.8 261.95,236.99 262.96,237.17 263.98,237.34 264.48,229.49 264.99,222.7 265.5,216.25 266,210.01 266.21,212.75 266.41,215.16 266.61,217.28 266.82,219.15 267.02,220.8 267.22,222.26 267.42,223.54 267.63,224.67 267.83,225.68 268.03,226.56 268.24,227.35 268.44,228.05 268.64,228.66 268.84,229.21 269.05,229.7 269.25,230.14 269.45,230.52 269.66,230.87 269.86,231.18 270.06,231.46 270.26,231.71 270.47,231.94 270.67,232.15 270.87,232.34 271.07,232.51 271.28,232.66 271.48,232.8 271.68,232.94 271.89,233.06 272.09,233.17 273.1,233.63 274.12,233.99 275.13,234.29 276.15,234.56 277.16,234.8 278.17,235.04 279.19,235.26 280.2,235.48 281.22,235.69 282.23,235.9 283.25,236.1 284.26,236.3 285.27,236.5 286.29,236.69 287.3,236.87 288.32,237.06 288.82,229.25 289.33,222.49 289.84,216.08 290.34,209.88 290.55,212.59 290.75,214.98 290.95,217.09 291.16,218.94 291.36,220.58 291.56,222.02 291.76,223.29 291.97,224.42 292.17,225.41 292.37,226.29 292.58,227.07 292.78,227.76 292.98,228.38 293.18,228.92 293.39,229.41 293.59,229.84 293.79,230.23 294,230.58 294.2,230.89 294.4,231.16 294.6,231.42 294.81,231.64 295.01,231.85 295.21,232.04 295.42,232.21 295.62,232.36 295.82,232.51 296.02,232.64 296.23,232.76 296.43,232.87 297.44,233.34 298.46,233.7 299.47,234.01 300.49,234.28 301.5,234.53 302.52,234.77 303.53,235 304.54,235.23 305.56,235.45 306.57,235.66 307.59,235.87 308.6,236.07 309.61,236.27 310.63,236.47 311.64,236.66 312.66,236.84 313.16,229.07 313.67,222.34 314.18,215.96 314.69,209.78 314.89,212.48 315.09,214.85 315.29,216.94 315.5,218.78 315.7,220.41 315.9,221.84 316.11,223.11 316.31,224.23 316.51,225.22 316.71,226.09 316.92,226.87 317.12,227.56 317.32,228.17 317.53,228.71 317.73,229.19 317.93,229.63 318.13,230.01 318.34,230.36 318.54,230.67 318.74,230.94 318.95,231.19 319.15,231.42 319.35,231.63 319.55,231.81 319.76,231.99 319.96,232.14 320.16,232.29 320.37,232.42 320.57,232.54 320.77,232.65 321.78,233.13 322.8,233.49 323.81,233.8 324.83,234.08 325.84,234.33 326.86,234.58 327.87,234.81 328.88,235.04 329.9,235.26 330.91,235.48 331.93,235.69 332.94,235.9 333.96,236.1 334.97,236.3 335.98,236.5 337,236.69 337.51,228.94 338.01,222.23 338.52,215.86 339.03,209.7 339.23,212.39 339.43,214.75 339.63,216.83 339.84,218.66 340.04,220.28 340.24,221.71 340.45,222.97 340.65,224.09 340.85,225.07 341.05,225.94 341.26,226.72 341.46,227.4 341.66,228.01 341.87,228.55 342.07,229.03 342.27,229.46 342.47,229.85 342.68,230.19 342.88,230.5 343.08,230.78 343.29,231.03 343.49,231.26 343.69,231.46 343.89,231.65 344.1,231.82 344.3,231.98 344.5,232.12 344.71,232.26 344.91,232.38 345.11,232.49 346.13,232.97 347.14,233.34 348.15,233.65 349.17,233.93 350.18,234.19 351.2,234.43 352.21,234.67 353.23,234.9 354.24,235.13 355.25,235.35 356.27,235.56 357.28,235.77 358.3,235.98 359.31,236.18 360.32,236.38 361.34,236.57 361.85,228.84 362.35,222.14 362.86,215.79 363.37,209.64 363.57,212.32 363.77,214.67 363.98,216.75 364.18,218.57 364.38,220.19 364.58,221.61 364.79,222.87 364.99,223.98 365.19,224.96 365.4,225.83 365.6,226.6 365.8,227.29 366,227.89 366.21,228.43 366.41,228.92 366.61,229.35 366.82,229.73 367.02,230.07 367.22,230.38 367.42,230.66 367.63,230.91 367.83,231.14 368.03,231.34 368.24,231.53 368.44,231.7 368.64,231.86 368.84,232 369.05,232.14 369.25,232.26 369.45,232.37 370.47,232.85 371.48,233.22 372.5,233.54 373.51,233.82 374.52,234.08 375.54,234.33 376.55,234.57 377.57,234.8 378.58,235.03 379.59,235.25 380.61,235.47 381.62,235.68 382.64,235.89 383.65,236.09 384.67,236.29 385.68,236.49 386.19,228.76 386.69,222.08 387.2,215.73 387.71,209.6 387.91,212.26 388.11,214.61 388.32,216.68 388.52,218.51 388.72,220.12 388.93,221.54 389.13,222.79 389.33,223.9 389.53,224.88 389.74,225.75 389.94,226.52 390.14,227.2 390.34,227.81 390.55,228.35 390.75,228.83 390.95,229.26 391.16,229.64 391.36,229.98 391.56,230.29 391.76,230.57 391.97,230.82 392.17,231.05 392.37,231.25 392.58,231.44 392.78,231.61 392.98,231.77 393.18,231.91 393.39,232.05 393.59,232.17 393.79,232.28 394.81,232.76 395.82,233.14 396.84,233.45 397.85,233.73 398.86,234 399.88,234.25 400.89,234.49 401.91,234.73 402.92,234.96 403.94,235.18 404.95,235.4 405.96,235.61 406.98,235.82 407.99,236.03 409.01,236.23 410.02,236.42 410.53,228.71 411.03,222.03 411.54,215.69 412.05,209.56 412.25,212.22 412.45,214.57 412.66,216.63 412.86,218.46 413.06,220.06 413.27,221.48 413.47,222.73 413.67,223.84 413.87,224.82 414.08,225.69 414.28,226.46 414.48,227.14 414.69,227.74 414.89,228.28 415.09,228.76 415.29,229.19 415.5,229.58 415.7,229.92 415.9,230.23 416.11,230.5 416.31,230.75 416.51,230.98 416.71,231.19 416.92,231.37 417.12,231.55 417.32,231.7 417.53,231.85 417.73,231.98 417.93,232.1 418.13,232.22 419.15,232.7 420.16,233.07 421.18,233.39 422.19,233.67 423.21,233.94 424.22,234.19 425.23,234.44 426.25,234.67 427.26,234.9 428.28,235.13 429.29,235.35 430.3,235.56 431.32,235.77 432.33,235.98 433.35,236.18 434.36,236.38 434.36,243.63 433.35,243.57 432.33,243.5 431.32,243.44 430.3,243.37 429.29,243.29 428.28,243.22 427.26,243.14 426.25,243.05 425.23,242.96 424.22,242.86 423.21,242.75 422.19,242.63 421.18,242.49 420.16,242.32 419.15,242.12 418.13,241.87 417.93,241.81 417.73,241.74 417.53,241.68 417.32,241.61 417.12,241.53 416.92,241.45 416.71,241.37 416.51,241.28 416.31,241.19 416.11,241.08 415.9,240.98 415.7,240.86 415.5,240.74 415.29,240.61 415.09,240.47 414.89,240.32 414.69,240.16 414.48,239.98 414.28,239.8 414.08,239.6 413.87,239.39 413.67,239.16 413.47,238.91 413.27,238.64 413.06,238.36 412.86,238.05 412.66,237.72 412.45,237.36 412.25,236.98 412.05,236.57 411.54,238.18 411.03,239.85 410.53,241.61 410.02,243.64 409.01,243.57 407.99,243.51 406.98,243.44 405.96,243.37 404.95,243.3 403.94,243.22 402.92,243.14 401.91,243.06 400.89,242.97 399.88,242.87 398.86,242.76 397.85,242.64 396.84,242.5 395.82,242.33 394.81,242.13 393.79,241.87 393.59,241.82 393.39,241.75 393.18,241.69 392.98,241.62 392.78,241.54 392.58,241.46 392.37,241.38 392.17,241.29 391.97,241.2 391.76,241.09 391.56,240.99 391.36,240.87 391.16,240.75 390.95,240.62 390.75,240.48 390.55,240.33 390.34,240.17 390.14,239.99 389.94,239.81 389.74,239.61 389.53,239.4 389.33,239.17 389.13,238.92 388.93,238.66 388.72,238.37 388.52,238.06 388.32,237.73 388.11,237.38 387.91,236.99 387.71,236.58 387.2,238.19 386.69,239.86 386.19,241.62 385.68,243.64 384.67,243.58 383.65,243.52 382.64,243.45 381.62,243.38 380.61,243.31 379.59,243.23 378.58,243.15 377.57,243.06 376.55,242.97 375.54,242.88 374.52,242.77 373.51,242.65 372.5,242.51 371.48,242.34 370.47,242.14 369.45,241.89 369.25,241.83 369.05,241.76 368.84,241.7 368.64,241.63 368.44,241.55 368.24,241.48 368.03,241.39 367.83,241.3 367.63,241.21 367.42,241.11 367.22,241 367.02,240.88 366.82,240.76 366.61,240.63 366.41,240.49 366.21,240.34 366,240.18 365.8,240.01 365.6,239.82 365.4,239.63 365.19,239.41 364.99,239.18 364.79,238.94 364.58,238.67 364.38,238.39 364.18,238.08 363.98,237.75 363.77,237.4 363.57,237.01 363.37,236.6 362.86,238.21 362.35,239.87 361.85,241.63 361.34,243.65 360.32,243.59 359.31,243.52 358.3,243.46 357.28,243.39 356.27,243.32 355.25,243.24 354.24,243.16 353.23,243.08 352.21,242.99 351.2,242.89 350.18,242.78 349.17,242.66 348.15,242.52 347.14,242.36 346.13,242.16 345.11,241.9 344.91,241.84 344.71,241.78 344.5,241.71 344.3,241.64 344.1,241.57 343.89,241.49 343.69,241.41 343.49,241.32 343.29,241.23 343.08,241.12 342.88,241.02 342.68,240.9 342.47,240.78 342.27,240.65 342.07,240.51 341.87,240.36 341.66,240.2 341.46,240.03 341.26,239.84 341.05,239.65 340.85,239.43 340.65,239.2 340.45,238.96 340.24,238.69 340.04,238.41 339.84,238.1 339.63,237.77 339.43,237.42 339.23,237.04 339.03,236.62 338.52,238.23 338.01,239.89 337.51,241.64 337,243.66 335.98,243.6 334.97,243.54 333.96,243.47 332.94,243.4 331.93,243.33 330.91,243.25 329.9,243.18 328.88,243.09 327.87,243 326.86,242.9 325.84,242.8 324.83,242.68 323.81,242.54 322.8,242.38 321.78,242.18 320.77,241.92 320.57,241.87 320.37,241.8 320.16,241.74 319.96,241.67 319.76,241.59 319.55,241.52 319.35,241.43 319.15,241.34 318.95,241.25 318.74,241.15 318.54,241.04 318.34,240.93 318.13,240.81 317.93,240.67 317.73,240.54 317.53,240.39 317.32,240.23 317.12,240.05 316.92,239.87 316.71,239.67 316.51,239.46 316.31,239.23 316.11,238.99 315.9,238.72 315.7,238.44 315.5,238.13 315.29,237.8 315.09,237.45 314.89,237.07 314.69,236.65 314.18,238.26 313.67,239.91 313.16,241.66 312.66,243.68 311.64,243.62 310.63,243.56 309.61,243.49 308.6,243.42 307.59,243.35 306.57,243.28 305.56,243.2 304.54,243.11 303.53,243.03 302.52,242.93 301.5,242.82 300.49,242.7 299.47,242.57 298.46,242.41 297.44,242.21 296.43,241.95 296.23,241.9 296.02,241.83 295.82,241.77 295.62,241.7 295.42,241.62 295.21,241.55 295.01,241.46 294.81,241.38 294.6,241.28 294.4,241.18 294.2,241.07 294,240.96 293.79,240.84 293.59,240.71 293.39,240.57 293.18,240.42 292.98,240.26 292.78,240.09 292.58,239.91 292.37,239.71 292.17,239.5 291.97,239.27 291.76,239.02 291.56,238.76 291.36,238.48 291.16,238.17 290.95,237.84 290.75,237.49 290.55,237.1 290.34,236.69 289.84,238.29 289.33,239.95 288.82,241.69 288.32,243.7 287.3,243.64 286.29,243.58 285.27,243.52 284.26,243.45 283.25,243.38 282.23,243.3 281.22,243.23 280.2,243.14 279.19,243.06 278.17,242.96 277.16,242.86 276.15,242.74 275.13,242.6 274.12,242.44 273.1,242.25 272.09,242 271.89,241.94 271.68,241.88 271.48,241.81 271.28,241.74 271.07,241.67 270.87,241.59 270.67,241.51 270.47,241.42 270.26,241.33 270.06,241.23 269.86,241.12 269.66,241.01 269.45,240.88 269.25,240.75 269.05,240.62 268.84,240.47 268.64,240.31 268.44,240.14 268.24,239.95 268.03,239.76 267.83,239.54 267.63,239.32 267.42,239.07 267.22,238.81 267.02,238.52 266.82,238.22 266.61,237.89 266.41,237.54 266.21,237.16 266,236.74 265.5,238.34 264.99,239.99 264.48,241.73 263.98,243.73 262.96,243.68 261.95,243.61 260.93,243.55 259.92,243.49 258.9,243.42 257.89,243.34 256.88,243.27 255.86,243.19 254.85,243.1 253.83,243.01 252.82,242.91 251.81,242.79 250.79,242.66 249.78,242.5 248.76,242.3 247.75,242.05 247.55,242 247.34,241.93 247.14,241.87 246.94,241.8 246.73,241.73 246.53,241.65 246.33,241.57 246.13,241.48 245.92,241.39 245.72,241.29 245.52,241.18 245.31,241.07 245.11,240.95 244.91,240.82 244.71,240.68 244.5,240.53 244.3,240.37 244.1,240.2 243.89,240.02 243.69,239.82 243.49,239.61 243.29,239.38 243.08,239.14 242.88,238.87 242.68,238.59 242.47,238.28 242.27,237.96 242.07,237.6 241.87,237.22 241.66,236.81 241.16,238.4 240.65,240.04 240.14,241.78 239.63,243.78 238.62,243.72 237.61,243.66 236.59,243.6 235.58,243.54 234.56,243.47 233.55,243.4 232.54,243.33 231.52,243.25 230.51,243.16 229.49,243.07 228.48,242.97 227.46,242.86 226.45,242.73 225.44,242.57 224.42,242.38 223.41,242.13 223.2,242.08 223,242.02 222.8,241.95 222.6,241.88 222.39,241.81 222.19,241.73 221.99,241.65 221.78,241.56 221.58,241.47 221.38,241.37 221.18,241.27 220.97,241.15 220.77,241.03 220.57,240.9 220.37,240.76 220.16,240.62 219.96,240.46 219.76,240.29 219.55,240.1 219.35,239.91 219.15,239.69 218.95,239.47 218.74,239.22 218.54,238.96 218.34,238.68 218.13,238.37 217.93,238.04 217.73,237.69 217.53,237.3 217.32,236.89 216.82,238.48 216.31,240.12 215.8,241.85 215.29,243.84 214.28,243.79 213.27,243.73 212.25,243.67 211.24,243.61 210.22,243.55 209.21,243.48 208.19,243.41 207.18,243.33 206.17,243.25 205.15,243.16 204.14,243.07 203.12,242.96 202.11,242.83 201.1,242.68 200.08,242.49 199.07,242.24 198.86,242.19 198.66,242.13 198.46,242.06 198.26,242 198.05,241.92 197.85,241.85 197.65,241.77 197.44,241.68 197.24,241.59 197.04,241.49 196.84,241.38 196.63,241.27 196.43,241.15 196.23,241.02 196.02,240.88 195.82,240.73 195.62,240.57 195.42,240.4 195.21,240.22 195.01,240.02 194.81,239.81 194.6,239.58 194.4,239.34 194.2,239.07 194,238.79 193.79,238.48 193.59,238.15 193.39,237.8 193.18,237.41 192.98,237 192.47,238.58 191.97,240.21 191.46,241.94 190.95,243.93 189.94,243.88 188.92,243.82 187.91,243.77 186.9,243.71 185.88,243.65 184.87,243.59 183.85,243.52 182.84,243.45 181.83,243.37 180.81,243.29 179.8,243.2 178.78,243.09 177.77,242.97 176.75,242.82 175.74,242.64 174.73,242.4 174.52,242.34 174.32,242.28 174.12,242.22 173.91,242.15 173.71,242.08 173.51,242 173.31,241.92 173.1,241.84 172.9,241.75 172.7,241.65 172.49,241.54 172.29,241.43 172.09,241.31 171.89,241.18 171.68,241.04 171.48,240.89 171.28,240.73 171.07,240.56 170.87,240.38 170.67,240.18 170.47,239.97 170.26,239.74 170.06,239.49 169.86,239.23 169.66,238.94 169.45,238.63 169.25,238.3 169.05,237.94 168.84,237.55 168.64,237.14 168.13,238.71 167.63,240.34 167.12,242.06 166.61,244.05 165.6,244 164.58,243.95 163.57,243.9 162.56,243.85 161.54,243.8 160.53,243.74 159.51,243.68 158.5,243.61 157.48,243.54 156.47,243.47 155.46,243.38 154.44,243.28 153.43,243.17 152.41,243.02 151.4,242.85 150.39,242.61 150.18,242.56 149.98,242.5 149.78,242.44 149.57,242.37 149.37,242.3 149.17,242.22 148.97,242.14 148.76,242.06 148.56,241.96 148.36,241.87 148.15,241.76 147.95,241.65 147.75,241.53 147.55,241.4 147.34,241.26 147.14,241.11 146.94,240.95 146.73,240.78 146.53,240.59 146.33,240.39 146.13,240.18 145.92,239.95 145.72,239.7 145.52,239.43 145.31,239.14 145.11,238.83 144.91,238.49 144.71,238.13 144.5,237.73 144.3,237.31 143.79,238.89 143.29,240.52 142.78,242.23 142.27,244.22 141.26,244.18 140.24,244.14 139.23,244.09 138.21,244.05 137.2,244 136.19,243.95 135.17,243.9 134.16,243.84 133.14,243.78 132.13,243.71 131.12,243.64 130.1,243.55 129.09,243.44 128.07,243.31 127.06,243.13 126.04,242.91 125.84,242.85 125.64,242.8 125.44,242.73 125.23,242.67 125.03,242.6 124.83,242.52 124.62,242.44 124.42,242.36 124.22,242.27 124.02,242.17 123.81,242.06 123.61,241.95 123.41,241.83 123.2,241.7 123,241.56 122.8,241.41 122.6,241.25 122.39,241.07 122.19,240.88 121.99,240.68 121.78,240.46 121.58,240.23 121.38,239.97 121.18,239.7 120.97,239.41 120.77,239.09 120.57,238.74 120.36,238.37 120.16,237.97 119.96,237.54 119.45,239.12 118.95,240.75 118.44,242.47 117.93,244.45 116.92,244.42 115.9,244.39 114.89,244.36 113.87,244.32 112.86,244.29 111.85,244.25 110.83,244.21 109.82,244.16 108.8,244.11 107.79,244.06 106.77,243.99 105.76,243.91 104.75,243.82 103.73,243.7 102.72,243.54 101.7,243.32 101.5,243.27 101.3,243.21 101.1,243.15 100.89,243.08 100.69,243.01 100.49,242.94 100.28,242.86 100.08,242.78 99.88,242.68 99.68,242.58 99.47,242.48 99.27,242.36 99.07,242.24 98.86,242.11 98.66,241.97 98.46,241.81 98.26,241.65 98.05,241.47 97.85,241.28 97.65,241.07 97.44,240.85 97.24,240.61 97.04,240.34 96.84,240.06 96.63,239.76 96.43,239.43 96.23,239.08 96.02,238.69 95.82,238.28 95.62,237.83 95.11,239.56 94.6,241.34 94.1,243.23 93.59,245.4" fill="#333" fill-opacity="0.19"/>
<polyline points="93.59,245.4 94.1,241.29 94.6,237.72 95.11,234.34 95.62,231.08 95.82,232.05 96.02,232.94 96.23,233.76 96.43,234.51 96.63,235.21 96.84,235.84 97.04,236.43 97.24,236.97 97.44,237.47 97.65,237.92 97.85,238.34 98.05,238.73 98.26,239.08 98.46,239.41 98.66,239.71 98.86,239.99 99.07,240.24 99.27,240.48 99.47,240.69 99.68,240.89 99.88,241.08 100.08,241.25 100.28,241.4 100.49,241.55 100.69,241.68 100.89,241.81 101.1,241.92 101.3,242.02 101.5,242.12 101.7,242.21 102.72,242.57 103.73,242.82 104.75,242.99 105.76,243.12 106.77,243.22 107.79,243.29 108.8,243.35 109.82,243.4 110.83,243.45 111.85,243.49 112.86,243.53 113.87,243.56 114.89,243.6 115.9,243.63 116.92,243.66 117.93,243.7 118.44,239.86 118.95,236.53 119.45,233.37 119.96,230.32 120.16,231.26 120.36,232.12 120.57,232.92 120.77,233.65 120.97,234.32 121.18,234.94 121.38,235.51 121.58,236.04 121.78,236.52 121.99,236.97 122.19,237.38 122.39,237.76 122.6,238.11 122.8,238.43 123,238.73 123.2,239 123.41,239.25 123.61,239.49 123.81,239.7 124.02,239.9 124.22,240.09 124.42,240.26 124.62,240.42 124.83,240.56 125.03,240.7 125.23,240.83 125.44,240.94 125.64,241.05 125.84,241.15 126.04,241.25 127.06,241.63 128.07,241.91 129.09,242.11 130.1,242.27 131.12,242.39 132.13,242.5 133.14,242.59 134.16,242.67 135.17,242.75 136.19,242.82 137.2,242.88 138.21,242.94 139.23,243 140.24,243.06 141.26,243.12 142.27,243.17 142.78,239.31 143.29,235.97 143.79,232.8 144.3,229.73 144.5,230.66 144.71,231.51 144.91,232.29 145.11,233.01 145.31,233.68 145.52,234.29 145.72,234.86 145.92,235.38 146.13,235.85 146.33,236.3 146.53,236.7 146.73,237.08 146.94,237.43 147.14,237.75 147.34,238.05 147.55,238.32 147.75,238.57 147.95,238.81 148.15,239.03 148.36,239.23 148.56,239.41 148.76,239.59 148.97,239.75 149.17,239.9 149.37,240.03 149.57,240.16 149.78,240.28 149.98,240.4 150.18,240.5 150.39,240.6 151.4,241 152.41,241.29 153.43,241.52 154.44,241.7 155.46,241.85 156.47,241.97 157.48,242.08 158.5,242.18 159.51,242.28 160.53,242.37 161.54,242.45 162.56,242.53 163.57,242.61 164.58,242.68 165.6,242.75 166.61,242.82 167.12,238.93 167.63,235.56 168.13,232.37 168.64,229.28 168.84,230.2 169.05,231.04 169.25,231.82 169.45,232.54 169.66,233.21 169.86,233.82 170.06,234.38 170.26,234.9 170.47,235.38 170.67,235.82 170.87,236.23 171.07,236.61 171.28,236.95 171.48,237.28 171.68,237.57 171.89,237.85 172.09,238.1 172.29,238.34 172.49,238.56 172.7,238.76 172.9,238.95 173.1,239.13 173.31,239.29 173.51,239.44 173.71,239.58 173.91,239.71 174.12,239.84 174.32,239.95 174.52,240.06 174.73,240.16 175.74,240.57 176.75,240.88 177.77,241.12 178.78,241.32 179.8,241.48 180.81,241.62 181.83,241.74 182.84,241.86 183.85,241.96 184.87,242.07 185.88,242.16 186.9,242.25 187.91,242.34 188.92,242.42 189.94,242.51 190.95,242.59 191.46,238.66 191.97,235.26 192.47,232.04 192.98,228.92 193.18,229.84 193.39,230.69 193.59,231.47 193.79,232.19 194,232.86 194.2,233.47 194.4,234.03 194.6,234.55 194.81,235.03 195.01,235.48 195.21,235.89 195.42,236.27 195.62,236.62 195.82,236.94 196.02,237.24 196.23,237.52 196.43,237.78 196.63,238.02 196.84,238.24 197.04,238.44 197.24,238.63 197.44,238.81 197.65,238.98 197.85,239.13 198.05,239.27 198.26,239.41 198.46,239.53 198.66,239.65 198.86,239.76 199.07,239.86 200.08,240.29 201.1,240.61 202.11,240.86 203.12,241.06 204.14,241.23 205.15,241.38 206.17,241.52 207.18,241.64 208.19,241.76 209.21,241.86 210.22,241.97 211.24,242.07 212.25,242.16 213.27,242.25 214.28,242.34 215.29,242.43 215.8,238.47 216.31,235.04 216.82,231.79 217.32,228.64 217.53,229.57 217.73,230.42 217.93,231.2 218.13,231.93 218.34,232.6 218.54,233.21 218.74,233.78 218.95,234.3 219.15,234.79 219.35,235.23 219.55,235.65 219.76,236.03 219.96,236.38 220.16,236.71 220.37,237.01 220.57,237.29 220.77,237.55 220.97,237.79 221.18,238.01 221.38,238.22 221.58,238.41 221.78,238.59 221.99,238.76 222.19,238.92 222.39,239.06 222.6,239.2 222.8,239.32 223,239.44 223.2,239.55 223.41,239.66 224.42,240.09 225.44,240.42 226.45,240.68 227.46,240.89 228.48,241.07 229.49,241.22 230.51,241.37 231.52,241.49 232.54,241.61 233.55,241.73 234.56,241.84 235.58,241.94 236.59,242.04 237.61,242.14 238.62,242.23 239.63,242.32 240.14,238.33 240.65,234.88 241.16,231.6 241.66,228.42 241.87,229.35 242.07,230.21 242.27,231 242.47,231.73 242.68,232.4 242.88,233.02 243.08,233.59 243.29,234.12 243.49,234.61 243.69,235.06 243.89,235.47 244.1,235.86 244.3,236.21 244.5,236.54 244.71,236.85 244.91,237.13 245.11,237.39 245.31,237.63 245.52,237.86 245.72,238.07 245.92,238.26 246.13,238.44 246.33,238.61 246.53,238.77 246.73,238.92 246.94,239.05 247.14,239.18 247.34,239.3 247.55,239.41 247.75,239.52 248.76,239.96 249.78,240.3 250.79,240.56 251.81,240.78 252.82,240.96 253.83,241.12 254.85,241.26 255.86,241.4 256.88,241.52 257.89,241.64 258.9,241.75 259.92,241.86 260.93,241.96 261.95,242.06 262.96,242.16 263.98,242.25 264.48,238.23 264.99,234.75 265.5,231.45 266,228.26 266.21,229.19 266.41,230.05 266.61,230.85 266.82,231.58 267.02,232.26 267.22,232.88 267.42,233.45 267.63,233.99 267.83,234.48 268.03,234.93 268.24,235.35 268.44,235.73 268.64,236.09 268.84,236.42 269.05,236.73 269.25,237.01 269.45,237.28 269.66,237.52 269.86,237.75 270.06,237.96 270.26,238.16 270.47,238.34 270.67,238.51 270.87,238.67 271.07,238.82 271.28,238.95 271.48,239.08 271.68,239.2 271.89,239.32 272.09,239.42 273.1,239.87 274.12,240.21 275.13,240.48 276.15,240.7 277.16,240.88 278.17,241.05 279.19,241.19 280.2,241.33 281.22,241.46 282.23,241.58 283.25,241.69 284.26,241.8 285.27,241.91 286.29,242.01 287.3,242.11 288.32,242.21 288.82,238.16 289.33,234.66 289.84,231.34 290.34,228.12 290.55,229.07 290.75,229.93 290.95,230.73 291.16,231.47 291.36,232.15 291.56,232.77 291.76,233.35 291.97,233.89 292.17,234.38 292.37,234.83 292.58,235.26 292.78,235.64 292.98,236 293.18,236.34 293.39,236.65 293.59,236.93 293.79,237.2 294,237.44 294.2,237.67 294.4,237.88 294.6,238.08 294.81,238.27 295.01,238.44 295.21,238.6 295.42,238.75 295.62,238.89 295.82,239.02 296.02,239.14 296.23,239.25 296.43,239.36 297.44,239.81 298.46,240.15 299.47,240.42 300.49,240.64 301.5,240.83 302.52,241 303.53,241.15 304.54,241.29 305.56,241.42 306.57,241.54 307.59,241.65 308.6,241.77 309.61,241.87 310.63,241.98 311.64,242.08 312.66,242.17 313.16,238.11 313.67,234.59 314.18,231.25 314.69,228.02 314.89,228.97 315.09,229.84 315.29,230.64 315.5,231.38 315.7,232.06 315.9,232.69 316.11,233.28 316.31,233.81 316.51,234.31 316.71,234.77 316.92,235.19 317.12,235.58 317.32,235.94 317.53,236.28 317.73,236.59 317.93,236.87 318.13,237.14 318.34,237.39 318.54,237.62 318.74,237.83 318.95,238.03 319.15,238.21 319.35,238.39 319.55,238.55 319.76,238.7 319.96,238.84 320.16,238.97 320.37,239.09 320.57,239.21 320.77,239.32 321.78,239.77 322.8,240.11 323.81,240.39 324.83,240.61 325.84,240.8 326.86,240.97 327.87,241.12 328.88,241.26 329.9,241.39 330.91,241.51 331.93,241.63 332.94,241.74 333.96,241.85 334.97,241.95 335.98,242.05 337,242.15 337.51,238.07 338.01,234.54 338.52,231.18 339.03,227.94 339.23,228.89 339.43,229.77 339.63,230.57 339.84,231.32 340.04,232 340.24,232.63 340.45,233.22 340.65,233.76 340.85,234.25 341.05,234.71 341.26,235.14 341.46,235.53 341.66,235.9 341.87,236.23 342.07,236.54 342.27,236.83 342.47,237.1 342.68,237.35 342.88,237.58 343.08,237.79 343.29,237.99 343.49,238.18 343.69,238.35 343.89,238.51 344.1,238.66 344.3,238.81 344.5,238.94 344.71,239.06 344.91,239.18 345.11,239.29 346.13,239.74 347.14,240.09 348.15,240.36 349.17,240.59 350.18,240.78 351.2,240.95 352.21,241.1 353.23,241.24 354.24,241.37 355.25,241.49 356.27,241.61 357.28,241.72 358.3,241.83 359.31,241.94 360.32,242.04 361.34,242.14 361.85,238.04 362.35,234.5 362.86,231.13 363.37,227.88 363.57,228.83 363.77,229.71 363.98,230.52 364.18,231.27 364.38,231.95 364.58,232.59 364.79,233.17 364.99,233.72 365.19,234.21 365.4,234.68 365.6,235.1 365.8,235.5 366,235.86 366.21,236.2 366.41,236.51 366.61,236.8 366.82,237.07 367.02,237.32 367.22,237.55 367.42,237.77 367.63,237.97 367.83,238.15 368.03,238.33 368.24,238.49 368.44,238.64 368.64,238.78 368.84,238.91 369.05,239.04 369.25,239.15 369.45,239.26 370.47,239.72 371.48,240.07 372.5,240.34 373.51,240.57 374.52,240.76 375.54,240.93 376.55,241.08 377.57,241.22 378.58,241.35 379.59,241.48 380.61,241.6 381.62,241.71 382.64,241.82 383.65,241.93 384.67,242.03 385.68,242.13 386.19,238.02 386.69,234.47 387.2,231.09 387.71,227.83 387.91,228.79 388.11,229.67 388.32,230.48 388.52,231.23 388.72,231.92 388.93,232.55 389.13,233.14 389.33,233.68 389.53,234.19 389.74,234.65 389.94,235.08 390.14,235.47 390.34,235.84 390.55,236.18 390.75,236.49 390.95,236.78 391.16,237.05 391.36,237.3 391.56,237.53 391.76,237.75 391.97,237.95 392.17,238.14 392.37,238.31 392.58,238.47 392.78,238.62 392.98,238.77 393.18,238.9 393.39,239.02 393.59,239.14 393.79,239.25 394.81,239.71 395.82,240.06 396.84,240.33 397.85,240.56 398.86,240.75 399.88,240.92 400.89,241.07 401.91,241.21 402.92,241.35 403.94,241.47 404.95,241.59 405.96,241.7 406.98,241.81 407.99,241.92 409.01,242.02 410.02,242.12 410.53,238.01 411.03,234.44 411.54,231.06 412.05,227.8 412.25,228.75 412.45,229.64 412.66,230.45 412.86,231.2 413.06,231.89 413.27,232.53 413.47,233.12 413.67,233.66 413.87,234.16 414.08,234.63 414.28,235.06 414.48,235.45 414.69,235.82 414.89,236.16 415.09,236.47 415.29,236.76 415.5,237.03 415.7,237.28 415.9,237.52 416.11,237.73 416.31,237.94 416.51,238.12 416.71,238.3 416.92,238.46 417.12,238.61 417.32,238.75 417.53,238.89 417.73,239.01 417.93,239.13 418.13,239.24 419.15,239.7 420.16,240.05 421.18,240.32 422.19,240.55 423.21,240.74 424.22,240.91 425.23,241.07 426.25,241.21 427.26,241.34 428.28,241.47 429.29,241.58 430.3,241.7 431.32,241.81 432.33,241.92 433.35,242.02 434.36,242.12" fill="none" stroke="#1a1a1a" stroke-width="1.1" stroke-linejoin="round"/>
<text transform="translate(73.25 247.8) scale(0.9 1)" text-anchor="end" class="tk">0</text>
<text transform="translate(73.25 228.87) scale(0.9 1)" text-anchor="end" class="tk">30</text>
<text transform="translate(73.25 209.94) scale(0.9 1)" text-anchor="end" class="tk">60</text>
<text transform="translate(73.25 191.01) scale(0.9 1)" text-anchor="end" class="tk">90</text>
<path d="M74.85 245.4H76.55M74.85 226.47H76.55M74.85 207.54H76.55M74.85 188.61H76.55" stroke="#333" stroke-width="0.8" fill="none"/>
<text transform="translate(455.4 210.15) rotate(90)" text-anchor="middle" class="st" textLength="3.7" lengthAdjust="spacingAndGlyphs">S</text>
<text transform="translate(93.59 256.2) scale(0.9 1)" text-anchor="middle" class="tk">0</text>
<text transform="translate(195.01 256.2) scale(0.9 1)" text-anchor="middle" class="tk">50</text>
<text transform="translate(296.43 256.2) scale(0.9 1)" text-anchor="middle" class="tk">100</text>
<text transform="translate(397.85 256.2) scale(0.9 1)" text-anchor="middle" class="tk">150</text>
<path d="M93.59 248.6V250.3M195.01 248.6V250.3M296.43 248.6V250.3M397.85 248.6V250.3" stroke="#333" stroke-width="0.8" fill="none"/>
<text x="259.2" y="267.9" text-anchor="middle" class="ti" textLength="39.9" lengthAdjust="spacingAndGlyphs">Time (h)</text>
<text transform="translate(56.8 133.15) rotate(-90)" text-anchor="middle" class="ti" textLength="108" lengthAdjust="spacingAndGlyphs">Concentration (mg·L<tspan font-size="5.5" dy="-4.2">-1</tspan><tspan dy="4.2">)</tspan></text>
<text x="10.8" y="24.6" text-anchor="middle" class="lb">A</text>
<rect x="78.1" y="283.7" width="373.7" height="117.1" fill="#ebebeb"/>
<rect x="451.8" y="283.7" width="12.2" height="117.1" fill="#d9d9d9"/>
<path d="M78.1 383.3H451.8M78.1 357.1H451.8M78.1 330.9H451.8M78.1 304.7H451.8" stroke="#fff" stroke-width="1.0" stroke-opacity="0.42" fill="none"/>
<path d="M145.56 283.7V400.8M246.67 283.7V400.8M347.78 283.7V400.8M448.89 283.7V400.8" stroke="#fff" stroke-width="0.9" stroke-opacity="0.42" fill="none"/>
<path d="M78.1 396.4H451.8M78.1 370.2H451.8M78.1 344H451.8M78.1 317.8H451.8M78.1 291.6H451.8" stroke="#fff" stroke-width="1.0" stroke-opacity="0.62" fill="none"/>
<path d="M95 283.7V400.8M196.11 283.7V400.8M297.22 283.7V400.8M398.33 283.7V400.8" stroke="#fff" stroke-width="1.0" stroke-opacity="0.85" fill="none"/>
<rect x="448.8" y="283.7" width="3" height="117.1" fill="#fff" fill-opacity="0.22"/>
<polygon points="95,353.17 95.51,358.55 96.01,362.99 96.52,366.65 97.02,369.66 97.53,372.15 98.03,374.19 98.54,375.87 99.04,377.26 99.55,378.4 100.06,379.33 100.56,380.1 101.07,380.74 101.57,381.26 102.08,381.68 102.58,382.03 103.09,382.32 103.59,382.55 104.1,382.74 104.61,382.9 105.11,383.03 105.62,383.13 106.12,383.22 106.63,383.29 107.13,383.34 107.64,383.39 108.14,383.43 108.65,383.46 109.16,383.48 109.66,383.5 110.17,383.52 110.67,383.54 111.18,383.55 113.2,383.58 115.22,383.59 117.24,383.6 119.27,383.59 121.29,383.58 123.31,383.54 125.33,383.49 127.36,383.42 129.38,383.34 131.4,383.25 133.42,383.14 135.44,383.04 137.47,382.94 139.49,382.84 141.51,382.76 143.53,382.69 145.56,382.63 147.58,382.59 149.6,382.57 151.62,382.55 153.64,382.54 155.67,382.54 157.69,382.52 159.71,382.5 161.73,382.47 163.75,382.42 165.78,382.35 167.8,382.27 169.82,382.17 171.84,382.06 173.87,381.95 175.89,381.84 177.91,381.73 179.93,381.63 181.95,381.55 183.98,381.48 186,381.43 188.02,381.39 190.04,381.36 192.07,381.34 194.09,381.33 196.11,381.31 198.13,381.28 200.15,381.25 202.18,381.2 204.2,381.13 206.22,381.05 208.24,380.95 210.27,380.84 212.29,380.72 214.31,380.6 216.33,380.48 218.35,380.37 220.38,380.27 222.4,380.19 224.42,380.12 226.44,380.07 228.47,380.03 230.49,380 232.51,379.97 234.53,379.95 236.55,379.92 238.58,379.88 240.6,379.83 242.62,379.77 244.64,379.68 246.67,379.59 248.69,379.47 250.71,379.35 252.73,379.22 254.75,379.1 256.78,378.97 258.8,378.86 260.82,378.76 262.84,378.68 264.86,378.61 266.89,378.56 268.91,378.52 270.93,378.48 272.95,378.45 274.98,378.42 277,378.38 279.02,378.33 281.04,378.26 283.06,378.18 285.09,378.08 287.11,377.97 289.13,377.84 291.15,377.71 293.18,377.57 295.2,377.44 297.22,377.31 299.24,377.2 301.26,377.1 303.29,377.02 305.31,376.95 307.33,376.9 309.35,376.85 311.38,376.81 313.4,376.77 315.42,376.73 317.44,376.68 319.46,376.61 321.49,376.53 323.51,376.43 325.53,376.32 327.55,376.19 329.58,376.05 331.6,375.91 333.62,375.77 335.64,375.63 337.66,375.5 339.69,375.39 341.71,375.29 343.73,375.21 345.75,375.14 347.78,375.08 349.8,375.04 351.82,374.99 353.84,374.94 355.86,374.89 357.89,374.82 359.91,374.74 361.93,374.64 363.95,374.52 365.97,374.39 368,374.25 370.02,374.1 372.04,373.95 374.06,373.81 376.09,373.67 378.11,373.54 380.13,373.43 382.15,373.33 384.17,373.25 386.2,373.18 388.22,373.12 390.24,373.06 392.26,373.01 394.29,372.95 396.31,372.88 398.33,372.8 400.35,372.7 402.37,372.59 404.4,372.46 406.42,372.31 408.44,372.16 410.46,372 412.49,371.84 414.51,371.69 416.53,371.55 418.55,371.42 420.57,371.31 422.6,371.21 424.62,371.13 426.64,371.06 428.66,371 430.69,370.94 432.71,370.87 434.73,370.8 434.73,394.78 432.71,394.78 430.69,394.77 428.66,394.77 426.64,394.77 424.62,394.77 422.6,394.77 420.57,394.77 418.55,394.77 416.53,394.76 414.51,394.76 412.49,394.76 410.46,394.76 408.44,394.76 406.42,394.76 404.4,394.75 402.37,394.75 400.35,394.75 398.33,394.75 396.31,394.75 394.29,394.75 392.26,394.74 390.24,394.74 388.22,394.74 386.2,394.74 384.17,394.74 382.15,394.74 380.13,394.74 378.11,394.73 376.09,394.73 374.06,394.73 372.04,394.73 370.02,394.73 368,394.73 365.97,394.72 363.95,394.72 361.93,394.72 359.91,394.72 357.89,394.72 355.86,394.72 353.84,394.71 351.82,394.71 349.8,394.71 347.78,394.71 345.75,394.71 343.73,394.71 341.71,394.71 339.69,394.7 337.66,394.7 335.64,394.7 333.62,394.7 331.6,394.7 329.58,394.7 327.55,394.69 325.53,394.69 323.51,394.69 321.49,394.69 319.46,394.69 317.44,394.69 315.42,394.68 313.4,394.68 311.38,394.68 309.35,394.68 307.33,394.68 305.31,394.68 303.29,394.68 301.26,394.67 299.24,394.67 297.22,394.67 295.2,394.67 293.18,394.67 291.15,394.67 289.13,394.66 287.11,394.66 285.09,394.66 283.06,394.66 281.04,394.66 279.02,394.66 277,394.66 274.98,394.65 272.95,394.65 270.93,394.65 268.91,394.65 266.89,394.65 264.86,394.65 262.84,394.64 260.82,394.64 258.8,394.64 256.78,394.64 254.75,394.64 252.73,394.64 250.71,394.63 248.69,394.63 246.67,394.63 244.64,394.63 242.62,394.63 240.6,394.63 238.58,394.63 236.55,394.62 234.53,394.62 232.51,394.62 230.49,394.62 228.47,394.62 226.44,394.62 224.42,394.61 222.4,394.61 220.38,394.61 218.35,394.61 216.33,394.61 214.31,394.61 212.29,394.6 210.27,394.6 208.24,394.6 206.22,394.6 204.2,394.6 202.18,394.6 200.15,394.6 198.13,394.59 196.11,394.59 194.09,394.59 192.07,394.59 190.04,394.59 188.02,394.59 186,394.58 183.98,394.58 181.95,394.58 179.93,394.58 177.91,394.58 175.89,394.58 173.87,394.57 171.84,394.57 169.82,394.57 167.8,394.57 165.78,394.57 163.75,394.57 161.73,394.57 159.71,394.56 157.69,394.56 155.67,394.56 153.64,394.56 151.62,394.56 149.6,394.56 147.58,394.55 145.56,394.55 143.53,394.55 141.51,394.55 139.49,394.55 137.47,394.55 135.44,394.55 133.42,394.54 131.4,394.54 129.38,394.54 127.36,394.54 125.33,394.54 123.31,394.54 121.29,394.53 119.27,394.53 117.24,394.53 115.22,394.53 113.2,394.53 111.18,394.53 110.67,394.53 110.17,394.53 109.66,394.52 109.16,394.52 108.65,394.52 108.14,394.52 107.64,394.52 107.13,394.52 106.63,394.52 106.12,394.52 105.62,394.52 105.11,394.52 104.61,394.52 104.1,394.52 103.59,394.52 103.09,394.52 102.58,394.52 102.08,394.52 101.57,394.52 101.07,394.52 100.56,394.52 100.06,394.52 99.55,394.52 99.04,394.52 98.54,394.52 98.03,394.52 97.53,394.52 97.02,394.52 96.52,394.51 96.01,394.51 95.51,394.51 95,394.51" fill="#333" fill-opacity="0.19"/>
<polyline points="95,391.68 95.51,391.68 96.01,391.67 96.52,391.66 97.02,391.65 97.53,391.64 98.03,391.63 98.54,391.62 99.04,391.61 99.55,391.61 100.06,391.6 100.56,391.59 101.07,391.58 101.57,391.57 102.08,391.56 102.58,391.55 103.09,391.55 103.59,391.54 104.1,391.53 104.61,391.52 105.11,391.51 105.62,391.5 106.12,391.5 106.63,391.49 107.13,391.48 107.64,391.47 108.14,391.46 108.65,391.46 109.16,391.45 109.66,391.44 110.17,391.43 110.67,391.42 111.18,391.42 113.2,391.39 115.22,391.35 117.24,391.32 119.27,391.29 121.29,391.26 123.31,391.23 125.33,391.21 127.36,391.18 129.38,391.15 131.4,391.12 133.42,391.09 135.44,391.07 137.47,391.04 139.49,391.02 141.51,390.99 143.53,390.96 145.56,390.94 147.58,390.92 149.6,390.89 151.62,390.87 153.64,390.84 155.67,390.82 157.69,390.8 159.71,390.77 161.73,390.75 163.75,390.73 165.78,390.71 167.8,390.69 169.82,390.67 171.84,390.65 173.87,390.63 175.89,390.61 177.91,390.59 179.93,390.57 181.95,390.55 183.98,390.53 186,390.51 188.02,390.49 190.04,390.47 192.07,390.45 194.09,390.44 196.11,390.42 198.13,390.4 200.15,390.38 202.18,390.37 204.2,390.35 206.22,390.34 208.24,390.32 210.27,390.3 212.29,390.29 214.31,390.27 216.33,390.26 218.35,390.24 220.38,390.23 222.4,390.21 224.42,390.2 226.44,390.19 228.47,390.17 230.49,390.16 232.51,390.14 234.53,390.13 236.55,390.12 238.58,390.1 240.6,390.09 242.62,390.08 244.64,390.07 246.67,390.05 248.69,390.04 250.71,390.03 252.73,390.02 254.75,390.01 256.78,390 258.8,389.99 260.82,389.97 262.84,389.96 264.86,389.95 266.89,389.94 268.91,389.93 270.93,389.92 272.95,389.91 274.98,389.9 277,389.89 279.02,389.88 281.04,389.87 283.06,389.86 285.09,389.85 287.11,389.84 289.13,389.83 291.15,389.83 293.18,389.82 295.2,389.81 297.22,389.8 299.24,389.79 301.26,389.78 303.29,389.77 305.31,389.77 307.33,389.76 309.35,389.75 311.38,389.74 313.4,389.74 315.42,389.73 317.44,389.72 319.46,389.71 321.49,389.71 323.51,389.7 325.53,389.69 327.55,389.69 329.58,389.68 331.6,389.67 333.62,389.67 335.64,389.66 337.66,389.65 339.69,389.65 341.71,389.64 343.73,389.63 345.75,389.63 347.78,389.62 349.8,389.62 351.82,389.61 353.84,389.6 355.86,389.6 357.89,389.59 359.91,389.59 361.93,389.58 363.95,389.58 365.97,389.57 368,389.57 370.02,389.56 372.04,389.56 374.06,389.55 376.09,389.55 378.11,389.54 380.13,389.54 382.15,389.53 384.17,389.53 386.2,389.52 388.22,389.52 390.24,389.51 392.26,389.51 394.29,389.51 396.31,389.5 398.33,389.5 400.35,389.49 402.37,389.49 404.4,389.48 406.42,389.48 408.44,389.48 410.46,389.47 412.49,389.47 414.51,389.47 416.53,389.46 418.55,389.46 420.57,389.45 422.6,389.45 424.62,389.45 426.64,389.44 428.66,389.44 430.69,389.44 432.71,389.43 434.73,389.43" fill="none" stroke="#1a1a1a" stroke-width="1.1" stroke-linejoin="round"/>
<text transform="translate(74.8 398.8) scale(0.9 1)" text-anchor="end" class="tk">0</text>
<text transform="translate(74.8 372.6) scale(0.9 1)" text-anchor="end" class="tk">5</text>
<text transform="translate(74.8 346.4) scale(0.9 1)" text-anchor="end" class="tk">10</text>
<text transform="translate(74.8 320.2) scale(0.9 1)" text-anchor="end" class="tk">15</text>
<text transform="translate(74.8 294) scale(0.9 1)" text-anchor="end" class="tk">20</text>
<path d="M76.4 396.4H78.1M76.4 370.2H78.1M76.4 344H78.1M76.4 317.8H78.1M76.4 291.6H78.1" stroke="#333" stroke-width="0.8" fill="none"/>
<text transform="translate(455.7 342.25) rotate(90)" text-anchor="middle" class="st" textLength="27.0" lengthAdjust="spacingAndGlyphs">AUC ratios</text>
<rect x="78.1" y="404.8" width="373.7" height="117.1" fill="#ebebeb"/>
<rect x="451.8" y="404.8" width="12.2" height="117.1" fill="#d9d9d9"/>
<path d="M78.1 504.3H451.8M78.1 478.1H451.8M78.1 451.9H451.8M78.1 425.7H451.8" stroke="#fff" stroke-width="1.0" stroke-opacity="0.42" fill="none"/>
<path d="M145.56 404.8V521.9M246.67 404.8V521.9M347.78 404.8V521.9M448.89 404.8V521.9" stroke="#fff" stroke-width="0.9" stroke-opacity="0.42" fill="none"/>
<path d="M78.1 517.4H451.8M78.1 491.2H451.8M78.1 465H451.8M78.1 438.8H451.8M78.1 412.6H451.8" stroke="#fff" stroke-width="1.0" stroke-opacity="0.62" fill="none"/>
<path d="M95 404.8V521.9M196.11 404.8V521.9M297.22 404.8V521.9M398.33 404.8V521.9" stroke="#fff" stroke-width="1.0" stroke-opacity="0.85" fill="none"/>
<rect x="448.8" y="404.8" width="3" height="117.1" fill="#fff" fill-opacity="0.22"/>
<polygon points="95,479.15 95.61,487.28 96.11,496.18 96.82,497.23 97.84,496.03 98.86,494.78 99.88,494.18 100.9,493.22 101.92,492.54 102.94,492.51 103.96,491.98 104.98,490.55 106,490.61 107.02,490.11 108.04,488.8 109.06,488.86 110.08,487.99 111.1,487.89 112.12,487.26 113.14,487.32 114.16,486.37 115.19,485.68 116.21,485.62 117.23,484.96 118.25,484.62 119.27,484.39 119.27,484.39 119.51,492.46 119.77,496.86 120.28,498.33 121.09,499.06 122.11,497.28 123.13,494.95 124.15,493.7 125.17,492.68 126.19,491.71 127.21,489.64 128.23,488.9 129.25,487.52 130.27,486.27 131.29,485.38 132.31,484.12 133.33,483.66 134.35,482.23 135.37,481.62 136.39,480.14 137.41,479.25 138.43,479.13 139.45,478.16 140.47,477.16 141.49,475.47 142.51,475.12 143.53,474.17 143.53,474.17 143.78,487.86 144.04,495.33 144.54,497.82 145.35,499.06 146.37,495.39 147.39,493.44 148.41,491.25 149.43,489.58 150.45,487.95 151.47,486.12 152.49,484.61 153.52,482.83 154.54,481.66 155.56,480.05 156.58,478.8 157.6,477.38 158.62,476.46 159.64,475.76 160.66,473.82 161.68,472.53 162.7,471.43 163.72,470.64 164.74,469.37 165.76,468.78 166.78,467.04 167.8,466.31 167.8,466.31 168.04,484.03 168.3,493.7 168.81,496.92 169.62,498.54 170.64,493.05 171.66,490.04 172.68,487.51 173.7,484.74 174.72,482.51 175.74,480.97 176.76,478.69 177.78,477.08 178.8,475.48 179.82,473.73 180.84,471.86 181.86,470.24 182.88,469.15 183.9,467.37 184.92,466.22 185.94,464.45 186.96,463.26 187.98,461.62 189,460.23 190.03,459.17 191.05,457.62 192.07,456.62 192.07,456.62 192.31,479.1 192.57,491.36 193.08,495.44 193.89,497.49 194.91,490.34 195.93,486.57 196.95,483.11 197.97,480.62 198.99,477.99 200.01,475.53 201.03,473.21 202.05,471.36 203.07,469.43 204.09,467.08 205.11,465.54 206.13,463.42 207.15,461.73 208.17,460.33 209.19,458.66 210.21,457.05 211.23,455.43 212.25,453.94 213.27,452.48 214.29,451 215.31,449.4 216.33,448.23 216.33,448.23 216.57,475.18 216.84,489.88 217.34,494.78 218.15,497.23 219.17,488.49 220.19,484.02 221.21,480.23 222.23,477.3 223.25,474.39 224.27,471.38 225.29,469.14 226.31,466.79 227.33,464.84 228.35,462.5 229.38,460.37 230.4,458.69 231.42,456.47 232.44,454.61 233.46,453.11 234.48,451.06 235.5,449.44 236.52,447.66 237.54,446.2 238.56,444.41 239.58,442.83 240.6,441.42 240.6,441.42 240.84,471.68 241.1,488.19 241.61,493.69 242.42,496.44 243.44,487.18 244.46,482.25 245.48,477.96 246.5,474.34 247.52,471.58 248.54,468.59 249.56,465.81 250.58,463.41 251.6,460.96 252.62,458.66 253.64,456.41 254.66,454.14 255.68,452.21 256.7,450.16 257.72,447.99 258.74,446.48 259.76,444.33 260.78,442.43 261.8,440.87 262.82,439.18 263.84,437.17 264.86,435.66 264.86,435.66 265.11,469.09 265.37,487.32 265.88,493.4 266.68,496.44 267.71,486.37 268.73,481.13 269.75,476.74 270.77,472.88 271.79,469.83 272.81,466.61 273.83,463.71 274.85,460.71 275.87,458.31 276.89,455.6 277.91,453.57 278.93,451.18 279.95,448.78 280.97,446.5 281.99,444.62 283.01,442.69 284.03,440.75 285.05,438.59 286.07,436.86 287.09,434.67 288.11,432.82 289.13,431.2 289.13,431.2 289.37,467.37 289.64,487.1 290.14,493.68 290.95,496.96 291.97,486.06 292.99,480.3 294.01,475.4 295.03,471.45 296.05,467.72 297.07,464.6 298.09,461.57 299.11,458.52 300.13,455.43 301.15,453.01 302.17,450.37 303.19,447.84 304.21,445.41 305.24,443.07 306.26,440.53 307.28,438.71 308.3,436.62 309.32,434.02 310.34,431.98 311.36,429.9 312.38,428.21 313.4,426.22 313.4,426.22 313.64,465.13 313.9,486.35 314.41,493.43 315.22,496.96 316.24,484.92 317.26,478.84 318.28,474.28 319.3,469.7 320.32,465.77 321.34,462.27 322.36,459 323.38,455.95 324.4,452.91 325.42,450.09 326.44,447.41 327.46,444.47 328.48,442.04 329.5,439.27 330.52,437.24 331.54,434.42 332.56,432.22 333.58,429.85 334.6,427.65 335.62,425.49 336.64,423.54 337.66,421.51 337.66,421.51 337.91,463.01 338.17,485.65 338.68,493.19 339.48,496.96 340.5,484.88 341.52,478.13 342.54,473.28 343.57,468.71 344.59,464.46 345.61,460.78 346.63,457.34 347.65,453.75 348.67,450.78 349.69,447.91 350.71,445.06 351.73,441.96 352.75,439.46 353.77,436.69 354.79,434.37 355.81,431.98 356.83,429.39 357.85,426.88 358.87,424.91 359.89,422.33 360.91,420.05 361.93,418.1 361.93,418.1 362.17,461.19 362.44,484.69 362.94,492.52 363.75,496.44 364.77,483.61 365.79,477.07 366.81,472.2 367.83,467.26 368.85,462.97 369.87,459.55 370.89,455.83 371.91,452.44 372.93,449.07 373.95,446.04 374.97,443.04 375.99,440.02 377.01,437.66 378.03,434.95 379.05,432.3 380.08,429.76 381.1,427.31 382.12,424.42 383.14,422.11 384.16,420.2 385.18,417.71 386.2,415.48 386.2,415.48 386.44,459.72 386.7,483.85 387.21,491.89 388.02,495.92 389.04,482.93 390.06,476.19 391.08,470.71 392.1,465.79 393.12,461.51 394.14,457.66 395.16,454.03 396.18,450.46 397.2,447.23 398.22,443.81 399.24,440.66 400.26,437.88 401.28,435.18 402.3,432.36 403.32,429.56 404.34,426.82 405.36,424.17 406.38,421.88 407.4,419.22 408.42,416.92 409.44,414.67 410.46,412.34 410.46,412.34 410.71,458.02 410.97,482.93 411.47,491.24 412.28,495.39 413.3,482.21 414.32,475.32 415.34,469.68 416.36,465 417.38,460.5 418.4,456.6 419.43,452.96 420.45,449.25 421.47,445.79 422.49,442.89 423.51,439.6 424.53,436.61 425.55,433.47 426.57,430.64 427.59,428.21 428.61,425.28 429.63,422.74 430.65,420.49 431.67,417.91 432.69,415.67 433.71,412.93 434.73,410.77 434.73,515.93 410.46,515.93 410.46,515.93 386.2,515.93 386.2,515.93 361.93,515.93 361.93,515.93 337.66,515.93 337.66,515.93 313.4,515.93 313.4,515.93 289.13,515.93 289.13,515.93 264.86,515.93 264.86,515.93 240.6,515.93 240.6,515.93 216.33,515.93 216.33,515.93 192.07,515.93 192.07,515.93 167.8,515.93 167.8,515.93 143.53,515.93 143.53,515.93 119.27,515.93 119.27,515.93 95,515.93" fill="#333" fill-opacity="0.19"/>
<polyline points="95,513.21 95.4,513.21 95.91,513.52 96.82,513.21 98.86,512.73 100.9,512.41 102.94,512.12 104.98,511.86 107.02,511.61 109.06,511.38 111.1,511.15 113.14,510.94 115.19,510.73 117.23,510.52 119.27,510.33 119.27,510.33 119.67,512.53 120.18,513.39 121.09,513.08 123.13,512.51 125.17,512.13 127.21,511.79 129.25,511.48 131.29,511.19 133.33,510.91 135.37,510.64 137.41,510.39 139.45,510.14 141.49,509.9 143.53,509.66 143.53,509.66 143.94,512.29 144.44,513.26 145.35,512.95 147.39,512.32 149.43,511.89 151.47,511.51 153.52,511.17 155.56,510.84 157.6,510.53 159.64,510.24 161.68,509.95 163.72,509.68 165.76,509.41 167.8,509.15 167.8,509.15 168.2,512.08 168.71,513.13 169.62,512.81 171.66,512.14 173.7,511.68 175.74,511.28 177.78,510.91 179.82,510.56 181.86,510.23 183.9,509.91 185.94,509.61 187.98,509.31 190.03,509.02 192.07,508.74 192.07,508.74 192.47,511.9 192.98,513 193.89,512.68 195.93,511.98 197.97,511.5 200.01,511.08 202.05,510.69 204.09,510.33 206.13,509.98 208.17,509.65 210.21,509.33 212.25,509.03 214.29,508.72 216.33,508.43 216.33,508.43 216.74,511.73 217.24,512.87 218.15,512.55 220.19,511.83 222.23,511.34 224.27,510.91 226.31,510.51 228.35,510.14 230.4,509.78 232.44,509.44 234.48,509.11 236.52,508.8 238.56,508.49 240.6,508.19 240.6,508.19 241,511.57 241.51,512.74 242.42,512.42 244.46,511.69 246.5,511.19 248.54,510.75 250.58,510.35 252.62,509.97 254.66,509.61 256.7,509.27 258.74,508.94 260.78,508.62 262.82,508.3 264.86,508 264.86,508 265.27,511.54 265.77,512.74 266.68,512.42 268.73,511.66 270.77,511.15 272.81,510.7 274.85,510.28 276.89,509.89 278.93,509.52 280.97,509.16 283.01,508.82 285.05,508.49 287.09,508.16 289.13,507.85 289.13,507.85 289.54,511.51 290.04,512.74 290.95,512.42 292.99,511.65 295.03,511.12 297.07,510.65 299.11,510.23 301.15,509.83 303.19,509.45 305.24,509.08 307.28,508.73 309.32,508.39 311.36,508.06 313.4,507.73 313.4,507.73 313.8,511.48 314.31,512.74 315.22,512.42 317.26,511.63 319.3,511.09 321.34,510.62 323.38,510.18 325.42,509.78 327.46,509.39 329.5,509.02 331.54,508.66 333.58,508.31 335.62,507.97 337.66,507.64 337.66,507.64 338.07,511.47 338.57,512.74 339.48,512.42 341.52,511.62 343.57,511.07 345.61,510.59 347.65,510.15 349.69,509.74 351.73,509.34 353.77,508.97 355.81,508.6 357.85,508.25 359.89,507.91 361.93,507.57 361.93,507.57 362.33,511.45 362.84,512.74 363.75,512.42 365.79,511.61 367.83,511.06 369.87,510.57 371.91,510.13 373.95,509.71 375.99,509.31 378.03,508.93 380.08,508.56 382.12,508.2 384.16,507.86 386.2,507.52 386.2,507.52 386.6,511.44 387.11,512.74 388.02,512.42 390.06,511.6 392.1,511.05 394.14,510.56 396.18,510.11 398.22,509.68 400.26,509.28 402.3,508.9 404.34,508.53 406.38,508.17 408.42,507.82 410.46,507.48 410.46,507.48 410.87,511.43 411.37,512.74 412.28,512.42 414.32,511.6 416.36,511.04 418.4,510.54 420.45,510.09 422.49,509.67 424.53,509.26 426.57,508.88 428.61,508.5 430.65,508.14 432.69,507.79 434.73,507.44" fill="none" stroke="#1a1a1a" stroke-width="1.1" stroke-linejoin="round"/>
<text transform="translate(74.8 519.8) scale(0.9 1)" text-anchor="end" class="tk">0</text>
<text transform="translate(74.8 493.6) scale(0.9 1)" text-anchor="end" class="tk">5</text>
<text transform="translate(74.8 467.4) scale(0.9 1)" text-anchor="end" class="tk">10</text>
<text transform="translate(74.8 441.2) scale(0.9 1)" text-anchor="end" class="tk">15</text>
<text transform="translate(74.8 415) scale(0.9 1)" text-anchor="end" class="tk">20</text>
<path d="M76.4 517.4H78.1M76.4 491.2H78.1M76.4 465H78.1M76.4 438.8H78.1M76.4 412.6H78.1" stroke="#333" stroke-width="0.8" fill="none"/>
<text transform="translate(455.7 463.35) rotate(90)" text-anchor="middle" class="st" textLength="47.8" lengthAdjust="spacingAndGlyphs">Concentration ratios</text>
<text transform="translate(95 530.2) scale(0.9 1)" text-anchor="middle" class="tk">0</text>
<text transform="translate(196.11 530.2) scale(0.9 1)" text-anchor="middle" class="tk">50</text>
<text transform="translate(297.22 530.2) scale(0.9 1)" text-anchor="middle" class="tk">100</text>
<text transform="translate(398.33 530.2) scale(0.9 1)" text-anchor="middle" class="tk">150</text>
<path d="M95 521.9V523.7M196.11 521.9V523.7M297.22 521.9V523.7M398.33 521.9V523.7" stroke="#333" stroke-width="0.8" fill="none"/>
<text x="260.3" y="541.7" text-anchor="middle" class="ti" textLength="39.9" lengthAdjust="spacingAndGlyphs">Time (h)</text>
<text transform="translate(57.4 391.7) rotate(-90)" text-anchor="middle" class="ti" xml:space="preserve" style="white-space:pre" textLength="113.2" lengthAdjust="spacingAndGlyphs">R- to S-latamoxef  ratios</text>
<text x="10.9" y="297.3" text-anchor="middle" class="lb">B</text>
</svg>
</body></html>
